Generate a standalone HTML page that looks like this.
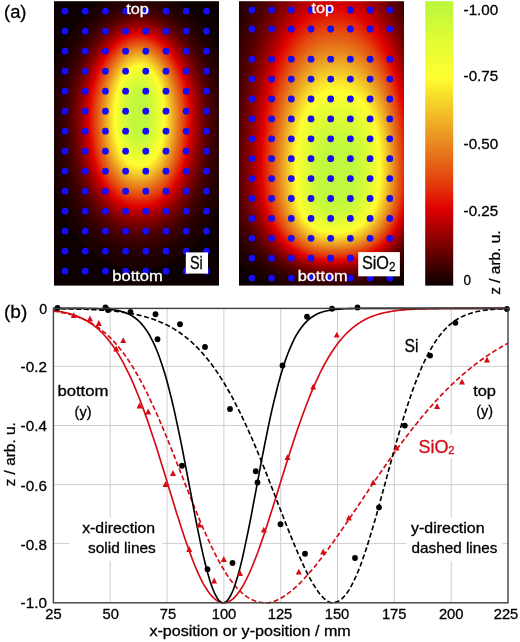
<!DOCTYPE html>
<html><head><meta charset="utf-8"><title>Figure</title><style>html,body{margin:0;padding:0;background:#fff}svg{display:block}text{stroke-width:.3px}</style></head><body>
<svg width="520" height="642" viewBox="0 0 520 642" font-family="'Liberation Sans', sans-serif">
<rect width="520" height="642" fill="#fff"/>
<clipPath id="c1"><rect x="54" y="1" width="165" height="285"/></clipPath>
<g clip-path="url(#c1)">
<rect x="54" y="1" width="165" height="285" fill="#0c0000"/>
<path d="M1057,-5l29,-15 618,0 6,3 75,43 75,55 72,64 70,75 59,75 59,90 49,90 28,60 23,56 0,1362 -7,22 -27,75 -31,75 -29,60 -33,60 -36,60 -42,60 -36,45 -41,45 -48,47 -45,37 -45,32 -45,28 -60,30 -45,18 -45,14 -60,14 -45,7 -45,4 -45,1 -60,-1 -45,-3 -45,-6 -75,-16 -75,-26 -45,-20 -30,-16 -30,-18 -45,-31 -30,-23 -45,-39 -61,-63 -60,-75 -50,-75 -34,-60 -23,-45 -47,-105 -33,-90 -19,-60 -21,-75 -26,-120 -1,-938 27,-97 37,-105 47,-105 32,-60 26,-45 61,-90 35,-45 39,-45 71,-71 45,-38 45,-34 45,-30z" fill="#1b0000" transform="scale(.1)"/>
<path d="M1251,-5l39,-9 44,-6 122,0 44,6 60,15 45,15 30,12 45,21 30,17 60,39 45,34 30,26 60,58 62,72 54,75 55,90 44,90 42,105 33,105 25,106 0,735 -21,119 -30,120 -33,105 -42,105 -28,60 -32,60 -27,45 -30,45 -34,45 -38,45 -30,31 -45,41 -30,24 -45,32 -45,26 -45,22 -45,17 -45,14 -45,10 -60,8 -90,3 -45,-2 -45,-4 -45,-8 -45,-11 -45,-15 -30,-12 -45,-22 -30,-17 -45,-30 -30,-22 -61,-55 -29,-30 -38,-45 -54,-75 -54,-90 -43,-90 -25,-60 -22,-60 -32,-105 -29,-120 -23,-135 -15,-135 -8,-135 -1,-150 4,-105 12,-105 19,-105 15,-60 17,-60 30,-90 46,-105 47,-90 28,-45 30,-45 34,-45 37,-45 70,-72 38,-33 37,-29 30,-22 45,-28 45,-24 45,-20 45,-17z" fill="#240000" transform="scale(.1)"/>
<path d="M1357,25l38,-2 45,2 45,6 30,6 30,8 45,15 45,19 30,15 45,27 30,20 63,49 63,60 65,75 53,75 54,90 43,90 41,105 32,105 14,60 11,60 15,105 7,105 -1,150 -7,135 -14,135 -22,135 -17,75 -16,60 -33,105 -42,105 -45,90 -26,45 -30,45 -28,39 -30,37 -30,33 -30,29 -45,39 -30,23 -30,19 -45,26 -30,14 -45,18 -45,13 -45,9 -45,6 -45,3 -90,-1 -45,-5 -45,-9 -45,-12 -30,-10 -30,-12 -45,-22 -30,-18 -45,-30 -64,-54 -30,-30 -39,-45 -55,-75 -29,-45 -25,-45 -23,-45 -27,-60 -34,-90 -36,-120 -25,-105 -22,-135 -14,-135 -7,-135 -1,-120 5,-105 12,-105 19,-105 28,-105 20,-60 23,-60 19,-45 29,-60 43,-75 29,-45 32,-45 62,-75 65,-64 45,-38 30,-22 30,-20 45,-27 30,-15 45,-19 45,-15 30,-8 45,-8z" fill="#2e0000" transform="scale(.1)"/>
<path d="M1292,70l43,-7 30,-3 45,-1 30,2 30,4 45,9 30,8 45,16 30,13 45,23 30,19 45,31 44,36 31,29 58,61 58,75 30,45 28,45 46,90 38,90 35,105 26,105 18,105 10,105 3,120 -4,150 -10,120 -18,135 -24,120 -34,120 -26,75 -18,45 -42,90 -25,45 -27,45 -55,75 -37,43 -30,31 -60,51 -30,21 -45,27 -30,15 -45,19 -30,10 -45,12 -45,7 -45,4 -90,0 -75,-8 -60,-15 -45,-16 -30,-13 -30,-15 -45,-27 -60,-45 -60,-58 -30,-34 -30,-38 -50,-76 -49,-90 -39,-90 -32,-90 -30,-105 -23,-105 -20,-135 -11,-120 -5,-120 -1,-120 6,-105 11,-90 11,-60 13,-60 30,-105 32,-90 41,-90 50,-90 29,-45 33,-45 34,-42 29,-33 61,-59 60,-48 30,-20 45,-27 30,-15 45,-19 45,-14z" fill="#380000" transform="scale(.1)"/>
<path d="M1290,100l30,-6 45,-5 45,-1 30,2 30,4 45,10 60,19 60,28 30,17 45,29 45,36 30,26 63,66 59,75 48,75 48,90 27,60 18,45 30,90 26,105 19,105 10,105 3,105 -4,150 -10,135 -17,120 -24,120 -16,60 -18,60 -32,90 -26,60 -22,45 -25,45 -27,45 -32,45 -23,30 -30,35 -30,31 -60,51 -30,21 -45,27 -45,22 -30,11 -30,10 -45,11 -75,9 -45,1 -45,-1 -75,-9 -45,-11 -30,-10 -60,-25 -60,-35 -60,-45 -30,-27 -30,-31 -53,-65 -50,-75 -42,-75 -40,-90 -37,-105 -29,-105 -24,-120 -17,-120 -9,-105 -5,-120 1,-120 7,-105 15,-105 23,-105 26,-90 34,-90 41,-90 52,-90 52,-75 55,-65 60,-59 60,-49 45,-29 30,-17 60,-28 45,-15z" fill="#420000" transform="scale(.1)"/>
<path d="M1357,115l38,-2 30,1 60,8 60,16 30,12 45,21 45,25 30,21 60,48 60,60 51,60 52,75 43,75 43,90 34,90 27,90 23,105 15,105 8,105 0,135 -6,120 -12,120 -19,120 -24,105 -31,105 -16,45 -24,60 -44,90 -26,45 -30,45 -49,63 -30,33 -30,29 -60,48 -45,28 -30,16 -60,24 -30,9 -45,10 -30,4 -45,3 -45,1 -45,-2 -45,-6 -30,-6 -30,-8 -45,-16 -60,-29 -60,-39 -30,-24 -30,-27 -47,-51 -28,-34 -29,-41 -29,-45 -25,-45 -36,-75 -35,-90 -32,-105 -28,-120 -17,-105 -13,-120 -6,-120 -1,-120 5,-105 13,-105 17,-90 28,-105 32,-90 40,-90 40,-75 48,-75 34,-45 25,-30 59,-61 60,-51 60,-41 30,-16 45,-21 30,-12 45,-12 30,-7z" fill="#4b0000" transform="scale(.1)"/>
<path d="M1304,145l61,-9 45,0 30,2 30,4 45,10 60,21 45,22 30,17 60,43 60,53 56,62 56,75 47,75 45,90 31,75 29,90 26,105 18,105 10,105 2,105 -4,135 -10,120 -17,120 -25,120 -29,105 -33,90 -42,90 -24,45 -28,45 -48,66 -30,35 -30,30 -30,27 -28,22 -32,22 -30,18 -60,28 -45,15 -30,7 -30,5 -45,5 -75,1 -45,-4 -30,-4 -45,-10 -30,-10 -60,-25 -60,-36 -30,-22 -30,-25 -55,-55 -47,-60 -49,-75 -39,-75 -38,-90 -31,-90 -27,-105 -21,-105 -14,-105 -9,-105 -4,-105 0,-120 7,-105 13,-90 22,-105 27,-90 33,-90 35,-75 23,-45 27,-45 52,-75 50,-60 60,-60 60,-48 60,-37 60,-28 45,-15z" fill="#550000" transform="scale(.1)"/>
<path d="M1332,160l33,-4 30,-1 30,1 45,6 60,15 60,24 60,34 61,45 59,55 56,65 53,75 44,75 37,75 24,60 16,45 27,90 20,90 15,105 7,90 1,120 -5,135 -12,120 -16,105 -20,90 -29,105 -33,90 -42,90 -43,75 -25,37 -30,39 -30,35 -30,30 -30,26 -30,23 -60,37 -45,21 -30,11 -60,15 -30,5 -45,3 -75,-1 -60,-7 -45,-11 -30,-9 -60,-27 -60,-37 -30,-23 -30,-26 -48,-51 -47,-60 -47,-75 -38,-75 -37,-90 -29,-90 -27,-105 -19,-105 -14,-120 -7,-105 -3,-120 3,-90 7,-90 14,-90 20,-90 27,-90 16,-45 24,-60 37,-75 44,-75 53,-75 56,-65 60,-55 60,-45 60,-34 60,-24 30,-9z" fill="#5f0000" transform="scale(.1)"/>
<path d="M1359,175l36,-2 30,1 60,9 60,18 60,28 60,38 60,49 30,29 30,32 53,68 49,75 40,75 33,75 32,90 24,90 18,90 14,105 5,90 -1,120 -6,120 -13,120 -18,105 -24,105 -34,105 -30,75 -45,90 -47,75 -48,60 -47,48 -30,26 -30,23 -30,19 -30,16 -60,25 -45,13 -30,5 -30,4 -45,3 -75,-3 -60,-9 -45,-13 -30,-11 -60,-30 -30,-19 -30,-23 -49,-44 -53,-60 -43,-60 -43,-75 -42,-90 -33,-90 -25,-90 -20,-90 -17,-105 -11,-105 -6,-120 -1,-120 5,-90 11,-90 17,-90 28,-105 32,-90 33,-75 40,-75 49,-75 46,-60 52,-55 60,-52 60,-40 60,-31 60,-20 30,-7z" fill="#690000" transform="scale(.1)"/>
<path d="M1288,205l32,-8 30,-4 60,-3 60,7 60,17 60,26 60,36 60,48 30,28 31,33 48,60 49,75 41,75 39,90 27,75 28,105 18,90 12,105 4,105 -3,135 -7,105 -15,120 -20,105 -28,105 -31,90 -40,90 -42,75 -30,45 -21,28 -45,52 -30,28 -30,25 -30,22 -30,18 -60,29 -60,19 -45,8 -30,3 -75,1 -60,-7 -60,-14 -60,-23 -30,-16 -30,-18 -45,-34 -49,-46 -51,-60 -41,-60 -42,-75 -34,-75 -32,-90 -26,-90 -19,-90 -17,-105 -10,-105 -5,-105 -1,-120 5,-90 9,-75 16,-90 23,-90 30,-90 31,-75 37,-75 46,-75 44,-60 56,-63 60,-54 60,-42 60,-31z" fill="#720000" transform="scale(.1)"/>
<path d="M1292,220l28,-7 30,-5 30,-2 45,1 30,3 30,6 30,9 30,11 60,29 30,19 30,21 57,50 48,52 52,68 47,75 45,90 30,75 29,90 19,75 16,90 11,105 3,105 -3,135 -8,105 -14,105 -21,105 -24,90 -31,90 -39,90 -42,75 -41,60 -52,60 -52,48 -30,22 -30,19 -30,16 -30,14 -60,19 -30,6 -45,6 -75,0 -60,-6 -60,-14 -45,-17 -30,-15 -30,-18 -48,-35 -27,-23 -30,-30 -45,-54 -40,-58 -42,-75 -33,-75 -28,-75 -26,-90 -20,-90 -16,-105 -11,-105 -5,-105 -1,-120 5,-90 9,-75 16,-90 19,-75 29,-90 30,-75 37,-75 45,-75 55,-75 52,-57 45,-41 60,-43 60,-32 30,-12z" fill="#7c0000" transform="scale(.1)"/>
<path d="M1292,235l28,-7 30,-5 60,-2 30,2 30,5 60,17 30,13 30,15 30,18 30,21 52,43 53,55 50,65 48,75 39,75 32,75 30,90 20,75 18,90 12,105 4,90 -2,135 -7,105 -14,120 -17,90 -27,105 -30,90 -40,90 -41,75 -45,65 -48,55 -27,26 -30,25 -30,21 -30,18 -30,16 -30,12 -30,10 -30,7 -60,9 -75,1 -60,-7 -60,-15 -45,-17 -30,-16 -30,-18 -45,-33 -45,-42 -48,-57 -42,-61 -41,-74 -34,-75 -27,-75 -25,-90 -20,-90 -14,-90 -11,-105 -5,-105 -1,-120 5,-90 9,-75 17,-90 18,-75 30,-90 30,-75 30,-60 43,-75 43,-60 28,-35 30,-32 45,-42 30,-24 30,-21 30,-18 30,-15 30,-13z" fill="#860000" transform="scale(.1)"/>
<path d="M1377,235l48,1 30,3 30,7 30,9 30,11 30,14 30,17 30,20 30,23 49,45 53,60 43,60 37,60 38,75 31,75 29,90 22,90 16,90 8,75 4,90 -1,120 -6,105 -12,105 -19,105 -26,105 -25,75 -30,75 -38,75 -38,62 -45,58 -45,47 -30,26 -30,22 -30,19 -30,16 -30,13 -30,10 -60,13 -60,5 -60,-2 -60,-8 -60,-18 -30,-13 -30,-16 -30,-19 -28,-20 -47,-42 -30,-33 -25,-30 -41,-60 -41,-75 -33,-75 -31,-90 -21,-75 -22,-105 -12,-90 -10,-105 -4,-105 0,-90 5,-90 12,-90 17,-90 20,-75 31,-90 32,-75 40,-75 48,-75 48,-60 47,-48 49,-42 56,-37 30,-15 30,-13 60,-18z" fill="#8f0000" transform="scale(.1)"/>
<path d="M1356,250l54,-2 30,3 30,5 30,8 30,10 30,13 30,16 54,37 51,44 45,48 45,58 39,60 40,75 33,75 31,90 23,90 17,90 9,75 6,90 -1,105 -5,105 -8,90 -16,105 -23,105 -22,75 -34,90 -36,75 -38,65 -45,61 -50,54 -25,22 -30,23 -30,19 -30,16 -30,13 -30,11 -60,13 -60,5 -60,-1 -60,-9 -60,-19 -30,-13 -30,-16 -50,-34 -50,-45 -40,-45 -43,-60 -35,-60 -36,-75 -29,-75 -27,-90 -23,-105 -14,-90 -9,-90 -6,-105 -1,-105 4,-90 9,-75 15,-90 23,-90 24,-75 30,-75 37,-75 45,-75 45,-60 55,-60 46,-41 30,-22 30,-19 45,-23 30,-12 30,-9z" fill="#990000" transform="scale(.1)"/>
<path d="M1340,265l55,-5 30,2 30,4 45,11 30,10 30,14 30,16 30,20 45,35 45,44 50,59 41,60 43,75 34,75 28,75 23,75 20,90 13,90 8,90 1,105 -3,105 -9,105 -15,105 -19,90 -26,90 -27,75 -33,75 -39,69 -45,64 -45,50 -47,42 -28,20 -30,18 -30,16 -30,12 -60,16 -60,7 -60,0 -60,-7 -60,-16 -30,-12 -30,-16 -45,-28 -48,-40 -43,-45 -44,-58 -38,-62 -30,-60 -31,-75 -29,-90 -19,-75 -19,-105 -11,-90 -7,-105 -2,-120 2,-75 8,-90 12,-75 20,-90 23,-75 28,-75 34,-75 43,-75 41,-60 50,-59 45,-44 45,-35 30,-20 30,-16 30,-14 30,-10z" fill="#a30000" transform="scale(.1)"/>
<path d="M1325,280l55,-7 30,0 30,3 30,5 30,8 45,18 45,24 30,20 30,23 45,42 51,59 42,60 43,75 35,75 29,75 22,75 20,90 14,90 8,90 1,105 -5,120 -9,105 -14,90 -19,90 -26,90 -28,75 -35,75 -34,60 -43,60 -25,30 -27,27 -45,39 -45,29 -30,16 -30,12 -30,10 -30,7 -60,7 -60,0 -60,-7 -30,-7 -30,-10 -45,-20 -45,-27 -45,-35 -45,-45 -45,-56 -38,-60 -38,-75 -30,-75 -25,-75 -22,-90 -16,-90 -11,-90 -7,-90 -3,-105 1,-90 6,-75 13,-90 15,-75 26,-90 27,-75 33,-75 42,-75 40,-60 47,-58 45,-45 45,-36 30,-20 30,-17 45,-20z" fill="#ad0000" transform="scale(.1)"/>
<path d="M1312,295l53,-9 30,-2 30,2 30,4 30,7 45,16 30,14 30,17 45,32 45,41 52,58 43,60 44,75 36,75 28,75 27,90 17,75 13,90 7,75 2,90 -3,120 -6,90 -14,105 -18,90 -24,90 -26,75 -32,75 -41,73 -43,62 -47,53 -45,39 -45,31 -30,15 -30,13 -30,10 -30,8 -60,7 -60,0 -60,-7 -30,-8 -30,-10 -45,-20 -45,-28 -45,-36 -45,-46 -39,-51 -38,-60 -31,-60 -31,-75 -25,-75 -19,-75 -18,-90 -12,-90 -8,-90 -3,-105 0,-90 7,-90 10,-75 15,-75 19,-75 25,-75 32,-75 38,-75 38,-60 40,-54 45,-49 53,-47 52,-35 45,-22z" fill="#b60000" transform="scale(.1)"/>
<path d="M1300,310l50,-11 30,-3 30,0 30,3 30,6 45,13 30,14 30,16 45,30 45,39 28,28 26,30 44,60 37,60 37,75 30,75 29,90 17,75 15,90 8,75 3,90 -2,120 -8,105 -11,90 -17,90 -24,90 -25,75 -32,75 -41,75 -39,56 -45,52 -45,41 -45,31 -30,17 -30,13 -45,14 -30,7 -30,3 -60,2 -45,-3 -30,-5 -30,-8 -45,-16 -45,-24 -45,-31 -45,-41 -45,-52 -39,-56 -33,-60 -28,-60 -28,-75 -25,-90 -17,-75 -14,-90 -9,-90 -5,-90 -1,-105 3,-75 8,-75 15,-90 17,-75 24,-75 28,-75 36,-75 35,-60 42,-60 38,-45 46,-45 27,-22 30,-21 45,-25 30,-14z" fill="#c00000" transform="scale(.1)"/>
<path d="M1350,310l45,-3 30,1 30,5 30,7 30,10 45,21 45,29 45,36 45,46 46,58 39,60 32,60 33,75 27,75 25,90 15,75 11,90 5,75 1,105 -5,105 -8,90 -14,90 -19,90 -22,75 -27,75 -35,75 -34,60 -40,55 -45,50 -45,38 -45,30 -30,15 -30,12 -30,9 -30,6 -60,6 -60,-2 -45,-7 -30,-7 -30,-11 -45,-21 -45,-30 -45,-38 -45,-50 -40,-55 -35,-61 -34,-74 -27,-75 -22,-75 -16,-75 -15,-90 -9,-90 -5,-90 -1,-90 2,-75 9,-90 12,-75 17,-75 22,-75 28,-75 34,-75 34,-60 41,-60 50,-59 45,-43 45,-34 45,-26 30,-13 30,-10z" fill="#ca0000" transform="scale(.1)"/>
<path d="M1328,325l52,-7 45,1 30,4 30,8 45,17 30,15 30,19 43,33 47,45 38,45 41,60 35,60 29,60 29,75 27,90 17,75 15,90 6,75 3,90 -3,120 -8,90 -12,90 -17,90 -20,75 -26,75 -32,75 -32,60 -45,66 -45,51 -45,40 -45,30 -30,16 -30,12 -45,13 -30,5 -30,3 -60,0 -45,-5 -30,-7 -30,-9 -45,-20 -45,-27 -45,-36 -40,-42 -35,-45 -39,-60 -30,-60 -31,-75 -24,-75 -19,-75 -14,-75 -12,-90 -8,-90 -2,-90 0,-90 7,-90 10,-75 15,-75 20,-75 26,-75 32,-75 32,-60 37,-60 45,-58 45,-47 45,-38 45,-29 45,-22 30,-10z" fill="#d40000" transform="scale(.1)"/>
<path d="M1310,340l25,-6 30,-5 45,-1 45,6 30,7 30,11 45,22 30,19 28,22 47,43 41,47 43,60 34,60 30,60 29,75 24,75 21,90 12,75 9,90 3,90 -3,105 -8,105 -12,90 -18,90 -21,75 -26,75 -33,75 -35,63 -40,57 -35,40 -45,41 -45,31 -30,16 -30,12 -45,13 -30,6 -30,2 -60,0 -45,-5 -30,-6 -30,-10 -45,-20 -45,-28 -45,-37 -37,-40 -35,-45 -37,-60 -30,-60 -25,-60 -25,-75 -19,-75 -15,-75 -10,-75 -8,-90 -4,-90 0,-90 4,-75 9,-75 13,-75 18,-75 24,-75 29,-75 30,-60 34,-60 43,-60 41,-47 45,-42 45,-33 45,-24z" fill="#de0000" transform="scale(.1)"/>
<path d="M1364,340l46,-1 30,3 30,6 45,15 45,23 45,31 45,39 44,49 33,45 38,60 31,60 31,75 25,75 19,75 15,75 11,90 4,75 -1,105 -4,90 -9,90 -14,90 -17,75 -22,75 -28,75 -28,60 -35,60 -33,47 -45,50 -45,39 -45,29 -30,14 -30,12 -45,11 -60,6 -60,-2 -45,-7 -45,-14 -45,-20 -45,-29 -45,-39 -45,-50 -33,-47 -35,-60 -28,-60 -28,-75 -22,-75 -17,-75 -14,-90 -9,-90 -4,-90 -1,-90 3,-75 10,-90 13,-75 19,-75 24,-75 30,-75 29,-60 36,-60 31,-45 41,-48 45,-43 45,-34 45,-25 45,-18 30,-8z" fill="#e00701" transform="scale(.1)"/>
<path d="M1341,355l24,-4 30,-1 45,3 45,11 45,18 45,26 45,35 45,44 39,48 40,60 33,60 28,60 27,75 22,75 16,75 12,75 7,90 2,90 -3,105 -8,90 -10,75 -18,90 -20,75 -26,75 -26,60 -32,60 -41,60 -42,48 -45,40 -45,30 -45,21 -45,14 -30,6 -30,3 -60,0 -45,-6 -45,-11 -45,-19 -45,-27 -45,-36 -45,-48 -30,-39 -32,-51 -30,-60 -25,-60 -25,-75 -19,-75 -14,-75 -12,-90 -7,-90 -2,-105 2,-75 5,-75 11,-75 15,-75 21,-75 26,-75 27,-60 31,-60 38,-60 35,-46 45,-48 45,-37 45,-29 45,-21z" fill="#e11103" transform="scale(.1)"/>
<path d="M1324,370l26,-5 30,-4 45,2 45,8 45,16 45,24 45,32 45,43 42,49 41,60 33,60 28,60 28,75 22,75 16,75 12,75 7,75 2,75 -2,105 -6,90 -11,90 -14,75 -22,90 -26,75 -25,60 -35,65 -37,55 -38,45 -45,41 -45,31 -45,22 -45,14 -30,6 -30,3 -60,0 -45,-6 -45,-12 -45,-19 -45,-28 -30,-23 -44,-44 -35,-45 -29,-45 -32,-60 -25,-60 -26,-75 -19,-75 -15,-75 -10,-75 -8,-90 -3,-75 0,-90 4,-75 9,-75 14,-75 18,-75 24,-75 24,-60 29,-60 35,-60 32,-45 42,-49 45,-43 45,-32 45,-24z" fill="#e11a05" transform="scale(.1)"/>
<path d="M1311,385l24,-7 30,-5 45,-1 45,6 45,14 45,22 46,31 44,39 45,51 32,45 36,60 29,60 30,75 23,75 18,75 12,75 8,75 4,75 -1,105 -6,90 -10,90 -17,90 -18,75 -25,75 -25,60 -31,60 -40,60 -37,45 -42,39 -45,32 -45,22 -45,15 -30,6 -30,3 -60,0 -45,-6 -45,-12 -45,-20 -45,-28 -30,-25 -40,-41 -35,-45 -30,-47 -30,-58 -25,-60 -20,-60 -20,-75 -15,-75 -10,-75 -7,-75 -4,-90 0,-90 4,-75 7,-60 12,-75 18,-75 23,-75 23,-60 28,-60 34,-60 31,-45 41,-50 41,-40 39,-30 40,-24 30,-14z" fill="#e22407" transform="scale(.1)"/>
<path d="M1360,385l20,-2 30,0 45,6 45,14 45,23 45,31 37,33 38,42 36,48 36,60 30,60 25,60 24,75 19,75 14,75 9,75 4,75 0,90 -4,90 -9,90 -11,75 -17,75 -21,75 -28,75 -29,60 -33,55 -37,50 -38,39 -44,36 -46,27 -45,17 -45,10 -45,4 -45,0 -45,-6 -45,-13 -45,-20 -45,-29 -40,-35 -35,-39 -37,-51 -34,-60 -27,-60 -22,-60 -21,-75 -17,-75 -11,-75 -8,-75 -5,-90 0,-90 2,-60 7,-75 12,-75 16,-75 18,-60 27,-75 27,-60 33,-60 40,-59 38,-46 37,-36 45,-34 45,-25 45,-17z" fill="#e32d09" transform="scale(.1)"/>
<path d="M1335,400l45,-6 45,1 45,9 45,17 45,26 45,35 38,38 36,45 31,46 33,59 34,75 21,60 21,75 16,75 11,75 6,75 2,90 -3,90 -7,90 -11,75 -14,75 -20,75 -26,75 -26,60 -34,60 -33,48 -37,42 -38,34 -45,30 -45,21 -45,13 -45,6 -45,0 -45,-4 -45,-10 -45,-18 -45,-27 -30,-24 -37,-36 -38,-48 -30,-47 -30,-58 -24,-57 -24,-75 -19,-75 -14,-75 -9,-75 -6,-75 -3,-90 1,-75 6,-75 9,-75 15,-75 16,-60 25,-75 25,-60 30,-60 32,-53 39,-52 36,-39 30,-27 45,-32 45,-23z" fill="#e3370b" transform="scale(.1)"/>
<path d="M1319,415l46,-10 45,-1 45,7 45,14 45,24 45,33 40,38 35,41 34,49 34,60 28,60 28,75 17,60 17,75 12,75 7,75 3,75 -2,105 -7,90 -9,75 -14,75 -19,75 -26,75 -26,60 -32,60 -30,44 -39,46 -36,33 -45,31 -45,21 -45,14 -45,6 -45,1 -45,-5 -45,-10 -45,-19 -44,-27 -31,-25 -35,-35 -35,-45 -29,-45 -23,-45 -26,-60 -21,-60 -17,-60 -16,-75 -11,-75 -7,-75 -4,-90 0,-90 4,-75 7,-60 13,-75 14,-60 22,-75 23,-60 28,-60 34,-60 31,-45 33,-40 35,-35 40,-31 45,-27z" fill="#e4400d" transform="scale(.1)"/>
<path d="M1370,415l40,-1 45,7 45,15 45,24 41,30 34,32 37,43 32,45 26,45 30,60 30,75 18,60 15,60 14,75 9,75 5,75 0,90 -5,90 -7,75 -12,75 -16,75 -22,75 -22,60 -27,57 -28,48 -32,45 -30,35 -45,39 -45,29 -45,19 -45,11 -45,4 -45,-1 -45,-6 -45,-14 -45,-22 -45,-32 -30,-27 -42,-50 -30,-45 -24,-45 -27,-60 -21,-60 -21,-75 -12,-60 -12,-75 -7,-75 -5,-90 0,-75 4,-75 8,-75 12,-75 19,-75 18,-60 23,-60 29,-60 34,-60 32,-45 37,-43 34,-32 41,-30 45,-24 45,-15z" fill="#e44a0f" transform="scale(.1)"/>
<path d="M1351,430l44,-4 45,4 45,13 30,13 45,28 30,24 41,42 35,45 29,45 32,60 26,60 25,75 16,60 15,75 10,75 6,75 1,90 -4,90 -7,75 -11,75 -15,75 -17,60 -21,60 -26,61 -30,54 -30,44 -30,36 -45,41 -45,29 -45,20 -45,12 -45,4 -45,-1 -45,-6 -45,-14 -45,-23 -43,-32 -32,-30 -30,-36 -27,-39 -26,-45 -28,-60 -21,-60 -18,-60 -14,-60 -12,-75 -9,-75 -4,-75 -2,-90 2,-60 6,-75 11,-75 16,-75 17,-60 21,-60 26,-60 32,-60 29,-45 31,-40 33,-35 34,-30 38,-26 45,-21z" fill="#e55312" transform="scale(.1)"/>
<path d="M1339,445l41,-6 45,1 45,10 30,12 45,25 30,23 41,40 37,45 30,45 33,60 26,60 21,60 17,60 16,75 12,75 6,75 1,90 -3,90 -6,75 -10,75 -15,75 -16,60 -20,60 -26,60 -24,46 -30,46 -35,43 -40,37 -45,31 -45,20 -45,12 -45,5 -45,-1 -45,-7 -45,-14 -30,-15 -45,-31 -30,-27 -30,-33 -30,-42 -30,-51 -23,-49 -23,-60 -18,-60 -14,-60 -13,-75 -7,-60 -5,-75 -2,-75 1,-75 5,-75 8,-60 10,-60 19,-75 19,-60 24,-60 29,-60 26,-45 32,-45 37,-42 36,-33 39,-27 45,-22z" fill="#e55c14" transform="scale(.1)"/>
<path d="M1329,460l36,-8 45,-1 45,7 30,10 45,23 40,29 35,33 35,42 31,45 33,60 27,60 22,60 21,75 12,60 10,60 7,75 2,75 -1,90 -6,90 -10,75 -14,75 -16,60 -19,60 -25,60 -24,45 -28,45 -37,45 -35,34 -36,26 -39,21 -45,15 -45,7 -45,1 -45,-5 -45,-12 -30,-13 -45,-28 -30,-25 -30,-32 -27,-34 -28,-45 -24,-45 -19,-45 -22,-64 -19,-71 -11,-60 -9,-60 -7,-75 -4,-75 0,-75 2,-60 7,-75 13,-75 13,-60 17,-60 22,-60 27,-60 24,-45 30,-46 34,-44 41,-40 30,-24 45,-26z" fill="#e66617" transform="scale(.1)"/>
<path d="M1321,475l44,-10 45,-2 45,8 30,10 45,24 30,21 30,27 37,42 32,45 26,45 29,60 23,60 23,75 13,60 10,60 9,75 3,75 -1,90 -4,75 -8,75 -13,75 -18,75 -19,60 -22,55 -25,50 -28,45 -36,45 -31,31 -30,23 -45,25 -45,16 -45,7 -45,1 -45,-5 -30,-7 -39,-16 -36,-21 -30,-23 -30,-29 -30,-37 -30,-46 -28,-54 -19,-45 -20,-60 -16,-60 -12,-60 -9,-60 -7,-75 -4,-75 0,-75 2,-60 6,-60 11,-75 13,-60 16,-60 21,-60 25,-60 24,-45 28,-45 34,-45 40,-41 30,-24 40,-25z" fill="#e66f19" transform="scale(.1)"/>
<path d="M1380,475l45,2 30,6 45,17 30,18 41,32 30,30 34,42 30,47 25,46 26,60 21,60 16,60 13,60 10,60 6,60 3,75 0,90 -5,75 -8,75 -10,60 -17,75 -19,60 -24,60 -22,45 -30,49 -30,38 -30,31 -30,24 -30,19 -45,19 -45,10 -45,3 -45,-3 -45,-10 -45,-19 -30,-19 -30,-24 -30,-31 -30,-38 -30,-49 -22,-45 -24,-60 -19,-60 -14,-60 -11,-60 -9,-75 -4,-60 -2,-75 0,-75 4,-60 7,-60 14,-75 14,-60 19,-60 23,-60 22,-45 25,-45 31,-45 36,-42 30,-28 30,-22 45,-25 30,-10z" fill="#e7791c" transform="scale(.1)"/>
<path d="M1357,490l38,-4 30,3 45,11 30,13 36,22 36,30 33,35 30,40 28,45 23,45 25,60 20,60 16,60 15,75 7,60 6,75 1,75 -3,90 -7,75 -9,60 -15,75 -17,60 -22,60 -20,45 -25,45 -32,45 -36,40 -30,25 -30,19 -45,20 -30,8 -45,5 -45,-1 -30,-4 -45,-13 -30,-15 -36,-24 -34,-30 -26,-30 -32,-45 -25,-45 -20,-45 -22,-60 -17,-60 -13,-60 -9,-60 -6,-60 -5,-75 -1,-75 2,-60 6,-75 9,-60 12,-60 16,-60 20,-60 18,-45 28,-56 30,-49 30,-40 30,-32 39,-33 36,-22 30,-13z" fill="#e8821e" transform="scale(.1)"/>
<path d="M1343,505l37,-6 30,0 45,8 30,11 45,26 30,24 30,30 33,42 29,45 24,45 25,60 21,60 15,60 13,60 8,60 7,75 1,60 -1,90 -6,75 -9,75 -12,60 -15,60 -19,60 -24,55 -27,50 -31,45 -32,36 -30,27 -30,20 -45,20 -30,9 -45,5 -45,-1 -30,-4 -45,-14 -30,-15 -30,-20 -30,-27 -30,-33 -24,-33 -26,-45 -22,-45 -18,-48 -17,-57 -15,-60 -10,-60 -7,-60 -6,-75 -1,-75 1,-60 5,-75 8,-60 11,-60 15,-60 19,-60 18,-45 21,-45 25,-45 23,-34 33,-41 31,-30 41,-31 30,-16z" fill="#e98b20" transform="scale(.1)"/>
<path d="M1334,520l31,-7 45,-2 45,9 30,11 30,17 30,22 30,28 36,42 29,45 25,46 26,59 20,60 17,60 12,60 8,60 7,75 2,60 -2,90 -6,75 -7,60 -14,75 -16,60 -20,60 -20,45 -24,45 -28,42 -30,36 -30,27 -30,21 -45,21 -30,9 -45,5 -45,-1 -30,-4 -30,-9 -30,-13 -30,-18 -30,-24 -30,-31 -30,-40 -22,-36 -23,-46 -18,-44 -19,-60 -14,-60 -11,-60 -7,-60 -5,-60 -2,-60 0,-75 3,-60 6,-60 10,-60 13,-60 17,-60 16,-45 19,-45 23,-45 28,-45 31,-41 30,-31 30,-25 30,-19z" fill="#ea9522" transform="scale(.1)"/>
<path d="M1327,535l38,-10 30,-2 45,5 30,9 30,15 40,28 32,30 26,30 31,45 25,45 20,45 23,60 17,60 13,60 10,60 6,60 4,75 -1,75 -4,75 -6,60 -12,75 -14,60 -19,60 -17,45 -24,49 -30,47 -30,37 -30,29 -30,22 -30,16 -30,11 -45,9 -45,1 -30,-3 -30,-7 -30,-11 -30,-16 -30,-22 -30,-29 -30,-37 -24,-36 -21,-41 -21,-49 -15,-45 -13,-45 -13,-60 -9,-60 -6,-60 -4,-75 -1,-75 3,-60 5,-60 9,-60 12,-60 17,-60 15,-45 18,-45 22,-45 27,-45 29,-40 30,-32 30,-26 30,-20z" fill="#ec9e23" transform="scale(.1)"/>
<path d="M1321,550l44,-13 30,-2 30,2 30,8 45,20 30,21 30,27 30,34 27,38 26,45 22,47 22,58 17,60 14,60 9,60 7,60 3,75 0,75 -4,75 -7,60 -9,60 -14,60 -18,60 -17,45 -21,45 -27,45 -30,39 -30,30 -30,23 -30,17 -30,11 -45,9 -45,1 -30,-3 -30,-7 -30,-11 -30,-17 -30,-23 -30,-30 -19,-24 -26,-39 -20,-36 -19,-45 -16,-45 -13,-45 -14,-60 -9,-60 -7,-60 -3,-60 -1,-75 1,-60 5,-60 8,-60 12,-60 15,-60 14,-45 18,-45 21,-45 26,-45 27,-38 30,-34 30,-27 30,-21z" fill="#eea824" transform="scale(.1)"/>
<path d="M1364,550l31,-3 30,3 15,3 30,10 30,16 30,21 30,28 30,35 25,37 25,45 20,45 17,45 17,60 11,45 10,60 8,60 4,60 1,60 -2,75 -6,75 -8,60 -12,60 -11,45 -20,60 -19,44 -25,46 -20,30 -30,36 -30,28 -30,20 -30,15 -30,9 -45,7 -45,-1 -30,-6 -30,-9 -30,-15 -30,-20 -30,-28 -19,-21 -26,-37 -22,-38 -21,-45 -16,-45 -16,-54 -11,-51 -10,-60 -7,-60 -3,-60 -2,-75 2,-60 5,-60 8,-60 11,-60 12,-45 19,-60 17,-45 22,-45 27,-45 22,-30 26,-30 27,-25 30,-21 30,-16 15,-6z" fill="#efb125" transform="scale(.1)"/>
<path d="M1352,565l28,-5 15,0 30,2 30,8 30,13 30,19 30,26 30,33 28,39 26,45 21,45 17,45 14,45 14,60 11,60 7,60 4,60 1,60 -2,75 -4,60 -8,60 -11,60 -13,52 -17,53 -19,45 -23,45 -20,30 -26,32 -30,29 -30,22 -30,15 -30,10 -45,6 -45,-1 -30,-5 -30,-10 -30,-15 -30,-22 -18,-16 -27,-30 -21,-30 -24,-41 -16,-34 -17,-45 -14,-45 -11,-45 -11,-60 -8,-60 -4,-60 -2,-75 1,-60 4,-60 7,-60 11,-60 10,-45 18,-60 17,-44 21,-46 24,-42 23,-33 25,-30 27,-26 30,-22 30,-16z" fill="#f1bb27" transform="scale(.1)"/>
<path d="M1344,580l36,-7 30,0 30,5 30,11 30,17 30,23 30,30 30,39 28,47 17,35 22,55 14,45 11,45 12,60 8,60 5,60 2,60 -2,75 -4,60 -6,60 -11,60 -10,45 -19,60 -18,45 -19,38 -23,37 -24,30 -30,30 -28,21 -30,16 -30,10 -45,7 -30,0 -30,-4 -30,-8 -30,-13 -30,-19 -29,-25 -27,-30 -19,-27 -19,-33 -21,-45 -17,-45 -14,-45 -10,-45 -11,-60 -10,-105 -1,-120 3,-60 7,-60 9,-60 10,-45 13,-45 16,-48 17,-42 23,-45 20,-32 30,-39 30,-30 30,-23 30,-17z" fill="#f3c428" transform="scale(.1)"/>
<path d="M1338,595l27,-7 30,-3 30,3 30,8 30,14 30,21 30,27 30,37 23,35 24,45 19,45 15,45 13,45 13,60 9,60 5,60 3,60 -1,75 -3,60 -6,60 -10,60 -14,60 -14,45 -18,45 -22,45 -21,33 -30,37 -21,20 -24,18 -30,17 -30,11 -45,7 -30,0 -30,-4 -30,-8 -30,-13 -20,-13 -25,-20 -24,-25 -23,-30 -19,-30 -22,-45 -17,-42 -11,-33 -11,-45 -12,-60 -7,-45 -5,-60 -3,-120 3,-60 5,-60 9,-60 9,-45 12,-45 15,-45 17,-45 22,-45 18,-30 29,-40 30,-31 23,-19 22,-15z" fill="#f5ce29" transform="scale(.1)"/>
<path d="M1334,610l31,-9 30,-3 30,3 30,9 30,14 30,22 30,29 21,25 24,36 21,39 19,45 16,45 13,45 13,60 9,60 5,60 3,60 -1,75 -3,60 -7,60 -10,60 -10,45 -14,45 -17,45 -22,45 -18,30 -27,35 -30,29 -30,21 -30,14 -30,9 -30,4 -30,0 -30,-4 -30,-9 -30,-14 -30,-21 -15,-13 -19,-21 -26,-34 -15,-26 -22,-45 -12,-30 -15,-45 -11,-45 -9,-45 -6,-45 -6,-60 -3,-120 6,-105 9,-60 8,-45 11,-45 14,-45 17,-45 19,-42 19,-33 26,-37 19,-23 26,-24 30,-22z" fill="#f7d72a" transform="scale(.1)"/>
<path d="M1332,625l33,-10 30,-3 30,3 30,8 30,16 30,22 24,24 21,25 23,35 22,41 21,49 15,45 11,45 12,60 7,45 5,60 3,60 0,60 -3,60 -6,60 -9,60 -10,45 -13,45 -18,48 -20,42 -25,40 -15,20 -30,30 -30,22 -30,15 -30,9 -30,4 -30,0 -30,-4 -30,-9 -16,-7 -25,-15 -19,-15 -30,-30 -22,-30 -23,-40 -15,-32 -15,-39 -12,-39 -11,-45 -8,-45 -10,-90 -3,-60 0,-60 6,-105 9,-60 8,-45 11,-45 14,-45 18,-45 14,-30 16,-30 23,-35 21,-25 24,-24 30,-22z" fill="#f9e12c" transform="scale(.1)"/>
<path d="M1330,640l20,-8 30,-6 30,0 30,6 30,13 30,19 30,28 20,23 21,30 19,34 19,41 16,45 14,45 13,60 7,45 6,60 4,60 0,60 -2,60 -5,60 -9,60 -9,45 -13,45 -16,45 -21,45 -19,33 -20,27 -25,26 -30,23 -30,16 -30,9 -30,4 -30,0 -30,-4 -30,-9 -15,-7 -21,-13 -24,-19 -25,-26 -20,-27 -15,-25 -19,-38 -12,-30 -15,-45 -11,-45 -9,-45 -10,-90 -3,-105 5,-105 7,-60 8,-45 10,-45 14,-45 16,-45 14,-30 15,-30 20,-31 23,-29 22,-23 30,-23z" fill="#fbea2d" transform="scale(.1)"/>
<path d="M1379,640l31,0 30,6 21,9 24,14 21,16 24,24 28,36 18,30 15,30 19,45 14,45 12,45 8,45 9,60 6,105 -2,105 -6,60 -6,45 -10,50 -15,54 -15,40 -15,33 -19,33 -26,35 -24,25 -21,16 -25,14 -20,8 -30,7 -30,2 -30,-2 -30,-7 -20,-8 -25,-14 -21,-16 -24,-25 -26,-35 -17,-30 -17,-36 -15,-39 -19,-75 -14,-90 -6,-105 3,-105 5,-60 7,-45 8,-45 12,-45 14,-45 19,-45 16,-32 17,-28 23,-30 20,-22 28,-23 17,-11 30,-13z" fill="#fdf42e" transform="scale(.1)"/>
<path d="M1375,655l20,-2 30,4 30,10 30,17 19,16 26,27 24,33 18,30 18,38 14,37 14,45 11,45 13,90 7,105 -3,105 -5,60 -7,45 -9,45 -12,45 -17,45 -14,30 -17,30 -20,29 -15,17 -30,26 -15,10 -30,14 -30,7 -30,2 -30,-2 -30,-7 -30,-14 -15,-10 -30,-26 -14,-16 -31,-46 -15,-30 -15,-37 -12,-37 -11,-45 -9,-45 -6,-45 -5,-90 1,-105 5,-60 5,-45 8,-45 11,-45 14,-45 14,-37 18,-38 18,-30 21,-30 18,-20 29,-25 16,-10 30,-14z" fill="#ffff30" transform="scale(.1)"/>
<path d="M1340,685l25,-9 30,-3 30,3 15,5 30,14 15,11 27,24 18,21 25,39 16,30 19,45 10,30 12,45 9,45 11,90 3,60 0,60 -2,60 -4,45 -7,45 -8,45 -9,33 -15,45 -15,35 -15,28 -16,24 -29,34 -15,13 -30,19 -30,11 -30,4 -45,-1 -21,-5 -24,-9 -30,-19 -15,-13 -30,-35 -15,-23 -15,-28 -15,-35 -12,-33 -18,-75 -12,-90 -3,-105 5,-105 12,-90 18,-75 10,-30 19,-45 16,-30 19,-30 21,-27 15,-15 30,-23z" fill="#f7fe31" transform="scale(.1)"/>
<path d="M1347,715l18,-6 30,-4 30,4 15,5 30,16 15,12 31,33 29,45 15,31 17,44 12,45 10,45 11,90 3,105 -2,60 -3,45 -12,75 -7,30 -14,47 -15,36 -15,29 -15,23 -26,30 -19,16 -30,17 -15,5 -30,6 -30,0 -15,-2 -15,-4 -21,-8 -24,-14 -15,-12 -30,-34 -15,-23 -15,-29 -15,-36 -10,-32 -17,-75 -8,-75 -3,-105 5,-90 12,-90 19,-75 17,-44 15,-31 29,-45 31,-33 15,-12z" fill="#eefd32" transform="scale(.1)"/>
<path d="M1363,745l17,-4 15,-1 30,4 15,6 18,10 27,22 15,17 15,20 15,26 15,32 21,63 14,75 7,75 3,90 -5,90 -11,75 -11,45 -10,30 -13,30 -17,30 -22,30 -15,15 -16,12 -15,9 -15,6 -30,6 -30,0 -15,-2 -30,-10 -15,-9 -16,-12 -15,-15 -22,-30 -24,-45 -20,-60 -13,-60 -8,-75 -1,-90 4,-90 10,-77 18,-73 12,-33 15,-32 15,-26 15,-20 30,-30 15,-11z" fill="#e4fd33" transform="scale(.1)"/>
<path d="M1352,790l28,-9 15,-2 15,2 15,3 15,7 15,9 15,13 15,16 15,20 15,27 20,49 15,60 10,75 4,90 -2,90 -9,75 -15,60 -11,30 -12,26 -15,25 -15,18 -15,14 -15,11 -15,7 -30,8 -30,0 -30,-8 -15,-7 -15,-11 -15,-14 -15,-18 -21,-36 -17,-45 -15,-60 -8,-60 -3,-75 2,-90 7,-75 11,-60 20,-60 24,-46 15,-20 15,-16 15,-13z" fill="#dbfc35" transform="scale(.1)"/>
<path d="M1386,820l24,1 15,4 15,8 15,11 15,15 15,20 15,28 18,48 12,52 6,53 3,75 0,75 -5,60 -11,60 -14,45 -9,19 -15,26 -15,18 -13,12 -17,11 -15,6 -30,4 -30,-4 -15,-6 -15,-10 -15,-13 -15,-18 -15,-26 -15,-36 -15,-58 -7,-60 -3,-60 2,-90 5,-60 11,-60 14,-45 8,-18 15,-28 24,-29 21,-17 15,-8z" fill="#d1fa38" transform="scale(.1)"/>
<path d="M1356,880l9,-6 15,-5 15,-2 15,2 15,5 9,6 21,18 15,21 18,36 12,40 8,50 4,60 0,90 -5,60 -7,45 -14,45 -16,30 -15,19 -15,13 -15,8 -15,4 -30,0 -15,-4 -15,-8 -15,-13 -15,-19 -15,-28 -11,-32 -7,-30 -6,-45 -3,-60 1,-90 3,-45 7,-45 13,-45 15,-30 18,-27z" fill="#c8f93a" transform="scale(.1)"/>
<path d="M1371,940l9,-5 15,-2 15,2 15,8 15,15 15,24 12,33 7,30 3,30 1,30 -2,105 -5,45 -7,30 -9,23 -15,24 -15,13 -15,7 -15,2 -15,-2 -15,-7 -15,-13 -11,-17 -7,-15 -10,-30 -5,-30 -3,-30 -2,-120 2,-30 5,-30 16,-48 15,-24 15,-15z" fill="#bff83d" transform="scale(.1)"/>
</g>
<clipPath id="c2"><rect x="239" y="1" width="165" height="285"/></clipPath>
<g clip-path="url(#c2)">
<rect x="239" y="1" width="165" height="285" fill="#0c0000"/>
<path d="M2360,-20l1710,0 0,2751 -60,46 -75,46 -60,31 -45,19 -46,17 -926,0 -63,-21 -75,-30 -60,-29 -75,-42 -60,-40 -60,-46 -54,-47 -51,-52z" fill="#1b0000" transform="scale(.1)"/>
<path d="M2386,-5l4,-15 1680,0 0,2669 -45,40 -45,35 -45,30 -45,26 -45,23 -45,19 -45,17 -45,14 -75,19 -60,10 -45,6 -24,2 -340,0 -71,-8 -90,-15 -60,-15 -45,-13 -90,-33 -90,-42 -75,-44 -45,-31 -45,-34 -41,-35 -32,-30 -32,-33 -37,-42 -53,-71 0,-2362z" fill="#240000" transform="scale(.1)"/>
<path d="M2472,-20l1598,0 0,2612 -45,45 -60,49 -60,41 -60,33 -75,34 -45,16 -60,17 -45,10 -60,10 -45,6 -60,5 -75,2 -90,0 -120,-6 -60,-7 -60,-10 -60,-13 -45,-13 -90,-31 -45,-20 -45,-22 -45,-25 -45,-29 -75,-55 -44,-39 -31,-30 -30,-32 -37,-43 -53,-75 -45,-78 0,-1960 22,-92 28,-105 31,-105z" fill="#2e0000" transform="scale(.1)"/>
<path d="M2536,-20l1534,0 0,2567 -56,58 -64,55 -60,41 -45,26 -45,22 -75,30 -45,14 -60,15 -60,11 -45,6 -105,7 -135,0 -120,-8 -105,-16 -60,-15 -45,-13 -45,-16 -45,-19 -45,-21 -45,-24 -78,-50 -39,-30 -36,-30 -42,-39 -34,-36 -60,-75 -49,-75 -25,-45 -22,-45 -20,-49 0,-1595 37,-186 41,-165 49,-165z" fill="#380000" transform="scale(.1)"/>
<path d="M2584,-5l7,-15 1435,0 44,118 0,2410 -32,37 -29,30 -32,30 -42,35 -45,32 -30,19 -45,24 -45,21 -75,28 -45,13 -60,14 -90,12 -105,6 -150,-1 -105,-9 -45,-7 -60,-12 -90,-27 -45,-17 -45,-19 -75,-40 -75,-50 -45,-36 -36,-31 -58,-60 -38,-45 -22,-30 -48,-75 -24,-45 -22,-45 -29,-75 -23,-74 0,-1215 19,-136 18,-105 26,-135 25,-105 27,-105 37,-120 37,-105z" fill="#420000" transform="scale(.1)"/>
<path d="M2639,-20l1347,0 31,75 53,145 0,2272 -34,43 -41,44 -33,31 -42,35 -45,32 -45,27 -45,23 -45,19 -45,17 -45,13 -90,20 -45,6 -60,5 -120,3 -105,-2 -105,-11 -90,-19 -45,-12 -60,-21 -45,-19 -45,-22 -75,-45 -67,-49 -35,-30 -33,-31 -30,-32 -36,-42 -54,-75 -43,-75 -22,-45 -19,-45 -26,-75 -16,-60 -13,-60 -11,-70 0,-713 11,-147 17,-150 23,-165 30,-165 30,-135 35,-135 43,-135 45,-120z" fill="#4b0000" transform="scale(.1)"/>
<path d="M2684,-20l1264,0 41,90 41,105 40,116 0,2148 -34,46 -41,47 -45,43 -45,38 -45,31 -45,27 -60,30 -45,18 -45,14 -45,13 -90,16 -105,9 -135,1 -105,-6 -90,-13 -45,-10 -45,-12 -75,-27 -75,-35 -45,-26 -35,-23 -70,-53 -41,-37 -29,-30 -27,-30 -36,-45 -50,-75 -26,-45 -22,-45 -31,-75 -27,-90 -20,-90 -14,-105 -8,-120 0,-195 6,-210 12,-195 16,-165 21,-165 25,-150 31,-150 30,-120 36,-120 41,-120 43,-105z" fill="#550000" transform="scale(.1)"/>
<path d="M2718,-5l8,-15 1186,0 31,60 27,60 49,120 26,75 25,78 0,2035 -33,47 -36,45 -36,38 -45,41 -45,35 -45,29 -60,32 -60,26 -45,15 -45,13 -90,17 -45,5 -60,4 -120,2 -105,-5 -90,-13 -45,-9 -45,-12 -75,-27 -75,-35 -75,-45 -67,-51 -34,-30 -34,-34 -37,-41 -23,-30 -52,-75 -41,-75 -20,-45 -18,-45 -28,-90 -20,-90 -13,-90 -9,-120 -1,-195 5,-195 12,-195 17,-180 21,-165 23,-135 28,-135 34,-135 40,-135 43,-120 45,-105z" fill="#5f0000" transform="scale(.1)"/>
<path d="M2758,-5l9,-15 1110,0 43,79 41,86 37,90 33,90 39,125 0,1928 -41,62 -36,45 -43,45 -45,41 -60,44 -45,28 -60,30 -60,23 -45,14 -45,11 -90,14 -105,7 -120,0 -90,-6 -90,-15 -75,-19 -75,-28 -75,-37 -45,-27 -30,-21 -39,-29 -34,-30 -60,-60 -49,-60 -50,-75 -25,-45 -22,-45 -30,-75 -27,-90 -19,-90 -13,-105 -6,-105 0,-210 6,-195 13,-195 18,-180 24,-165 25,-135 30,-135 37,-135 34,-105 46,-120 47,-105z" fill="#690000" transform="scale(.1)"/>
<path d="M2806,-20l1037,0 52,90 52,105 49,120 42,120 32,107 0,1827 -38,61 -46,60 -41,45 -50,45 -50,38 -60,37 -60,29 -60,22 -45,13 -45,11 -45,8 -45,5 -105,6 -120,-1 -90,-8 -90,-17 -75,-22 -75,-30 -75,-41 -72,-50 -36,-30 -32,-30 -55,-60 -46,-60 -46,-75 -37,-75 -34,-90 -24,-90 -17,-90 -11,-105 -4,-120 2,-225 8,-195 16,-195 21,-180 28,-165 28,-135 30,-120 36,-120 43,-120 45,-105 52,-103z" fill="#720000" transform="scale(.1)"/>
<path d="M2834,-5l11,-15 963,0 37,55 30,51 30,56 30,62 27,61 29,75 46,135 33,116 0,1730 -34,59 -43,60 -52,60 -49,45 -62,47 -60,36 -60,28 -60,21 -45,13 -45,10 -90,12 -105,5 -120,-3 -90,-9 -75,-15 -75,-23 -75,-32 -45,-24 -30,-18 -66,-48 -35,-30 -31,-30 -54,-60 -44,-60 -45,-75 -35,-75 -33,-90 -23,-90 -18,-105 -9,-105 -3,-120 3,-210 9,-195 17,-195 23,-180 23,-135 29,-135 31,-120 42,-135 45,-120 47,-105 52,-96z" fill="#7c0000" transform="scale(.1)"/>
<path d="M2884,-20l889,0 42,58 39,62 36,64 35,71 33,75 35,90 30,90 27,90 20,78 0,1635 -40,72 -41,60 -52,60 -47,45 -60,47 -60,36 -30,16 -45,19 -75,25 -45,11 -45,9 -90,9 -120,3 -105,-5 -75,-10 -75,-17 -75,-25 -75,-35 -39,-23 -36,-24 -60,-47 -36,-34 -29,-30 -49,-60 -50,-75 -39,-75 -31,-75 -24,-75 -15,-60 -9,-45 -14,-105 -6,-120 0,-165 6,-210 12,-180 19,-180 23,-150 25,-135 32,-135 40,-135 42,-120 44,-105 53,-105 51,-84 30,-43z" fill="#860000" transform="scale(.1)"/>
<path d="M2911,-5l13,-15 813,0 48,60 45,66 45,77 41,82 40,90 34,90 29,90 34,120 17,67 0,1542 -36,71 -28,45 -22,30 -49,60 -30,30 -30,27 -60,45 -60,36 -75,34 -75,23 -75,16 -90,10 -120,2 -105,-4 -90,-14 -75,-19 -75,-28 -60,-30 -38,-23 -37,-25 -60,-50 -59,-60 -47,-60 -40,-60 -40,-75 -31,-75 -29,-90 -14,-60 -8,-45 -8,-60 -6,-60 -4,-120 1,-180 7,-180 13,-180 18,-165 26,-165 31,-150 30,-120 37,-120 44,-120 47,-105 47,-90 30,-49 27,-41z" fill="#8f0000" transform="scale(.1)"/>
<path d="M2951,-5l15,-15 732,0 57,63 53,72 52,85 45,87 43,98 40,105 33,105 36,135 13,56 0,1449 -33,70 -45,75 -27,36 -30,36 -30,32 -30,28 -30,25 -32,23 -43,27 -30,16 -45,21 -30,11 -75,23 -45,9 -45,7 -90,8 -120,0 -90,-6 -75,-12 -75,-20 -75,-29 -60,-31 -38,-24 -37,-26 -57,-49 -56,-60 -47,-60 -46,-75 -37,-75 -18,-45 -15,-45 -21,-75 -10,-45 -9,-60 -7,-60 -5,-60 -2,-150 3,-195 8,-165 14,-165 22,-165 25,-150 30,-135 37,-135 40,-120 42,-105 49,-102 54,-93 52,-75 29,-35z" fill="#990000" transform="scale(.1)"/>
<path d="M2994,-5l18,-15 644,0 39,36 30,32 30,35 30,40 30,44 30,49 50,94 28,60 25,60 43,120 40,135 33,135 6,29 0,1357 -16,39 -22,45 -44,75 -32,45 -25,30 -28,30 -31,30 -37,30 -35,25 -45,28 -30,15 -75,31 -45,14 -45,11 -75,12 -90,6 -120,-1 -90,-7 -75,-14 -75,-22 -75,-33 -60,-34 -64,-46 -56,-51 -49,-54 -23,-30 -31,-45 -43,-75 -33,-75 -27,-75 -22,-90 -17,-105 -6,-60 -3,-60 -1,-180 5,-195 12,-180 16,-150 22,-150 29,-150 33,-135 36,-120 44,-120 46,-105 48,-90 54,-84 30,-41 30,-36 30,-32z" fill="#a30000" transform="scale(.1)"/>
<path d="M3041,-5l21,-15 546,0 57,45 30,28 30,32 30,36 40,54 55,90 25,46 30,62 49,117 46,135 37,135 33,150 0,1265 -35,85 -23,45 -27,45 -31,45 -24,30 -40,43 -30,28 -30,25 -45,32 -30,18 -45,23 -75,29 -45,13 -45,10 -90,12 -90,4 -105,-1 -45,-4 -45,-6 -75,-16 -75,-24 -60,-28 -60,-35 -63,-48 -57,-54 -32,-36 -24,-30 -41,-60 -41,-75 -32,-75 -29,-90 -18,-75 -15,-105 -8,-120 0,-195 7,-195 12,-165 18,-165 27,-165 29,-135 36,-135 39,-120 42,-107 50,-103 25,-46 30,-49 30,-44 30,-39 30,-35 30,-31 30,-27z" fill="#ad0000" transform="scale(.1)"/>
<path d="M3095,-5l28,-15 428,0 39,23 30,20 45,37 30,29 30,32 30,36 30,41 30,45 55,97 50,107 45,117 38,121 39,150 28,142 0,1165 -4,13 -16,45 -19,45 -23,45 -25,45 -31,45 -23,30 -39,44 -33,31 -36,30 -36,25 -45,28 -30,15 -45,19 -45,16 -45,12 -60,12 -90,9 -105,2 -90,-4 -75,-10 -60,-14 -75,-26 -45,-20 -30,-16 -60,-39 -60,-50 -48,-49 -49,-60 -48,-75 -38,-75 -18,-45 -16,-45 -21,-75 -18,-90 -12,-105 -4,-135 2,-210 10,-195 16,-165 23,-165 28,-150 33,-135 36,-120 44,-120 50,-112 28,-53 27,-45 50,-74 30,-38 30,-34 30,-30 30,-26 30,-24z" fill="#b60000" transform="scale(.1)"/>
<path d="M3165,-5l46,-15 259,1 45,16 30,13 30,17 30,19 30,22 30,26 30,29 30,33 30,36 30,41 30,46 27,46 48,94 45,106 41,115 39,135 31,135 24,133 0,1065 -25,77 -19,45 -21,45 -25,45 -29,45 -31,40 -30,34 -30,30 -30,26 -30,23 -45,30 -30,16 -45,22 -45,17 -45,13 -45,11 -60,9 -90,7 -105,0 -75,-5 -75,-12 -60,-16 -45,-15 -30,-13 -30,-15 -39,-22 -64,-45 -32,-27 -30,-29 -31,-34 -25,-30 -42,-60 -42,-75 -32,-75 -26,-75 -21,-90 -14,-90 -6,-60 -4,-75 0,-180 6,-195 14,-180 20,-165 25,-150 33,-150 34,-120 41,-120 24,-60 27,-60 49,-93 30,-49 30,-44 30,-39 30,-34 30,-31 30,-27 30,-24 45,-30 30,-16z" fill="#c00000" transform="scale(.1)"/>
<path d="M3218,10l42,-9 30,-3 45,-2 45,1 45,6 30,6 60,20 30,13 30,17 30,19 30,23 30,25 30,30 30,33 30,37 30,42 27,42 48,85 45,95 45,115 40,125 31,120 28,135 21,129 0,956 -20,70 -21,60 -20,45 -23,45 -27,45 -31,45 -38,45 -29,30 -31,28 -30,23 -35,24 -40,24 -45,21 -45,18 -45,14 -45,10 -45,8 -45,5 -90,4 -105,-2 -75,-7 -60,-12 -60,-18 -45,-17 -30,-14 -60,-35 -60,-44 -33,-30 -30,-30 -50,-60 -40,-60 -40,-75 -20,-45 -17,-45 -23,-75 -19,-90 -12,-90 -4,-60 -3,-75 1,-195 9,-195 14,-165 22,-165 28,-150 32,-135 40,-135 46,-120 48,-105 52,-90 29,-44 35,-46 40,-45 30,-30 30,-26 30,-23 30,-19 45,-24 45,-18z" fill="#ca0000" transform="scale(.1)"/>
<path d="M3221,40l39,-8 30,-3 45,-2 45,1 45,5 30,6 30,9 30,11 45,22 30,18 30,21 30,25 30,27 30,32 50,61 25,36 30,47 53,97 47,105 38,105 37,120 33,135 26,135 21,146 0,837 -12,52 -13,45 -15,45 -18,45 -21,45 -24,45 -29,45 -22,30 -26,31 -30,32 -30,27 -37,30 -38,26 -45,25 -30,14 -45,18 -45,14 -45,11 -45,8 -45,5 -75,4 -105,-1 -75,-6 -75,-14 -30,-9 -45,-15 -60,-27 -63,-38 -59,-45 -32,-30 -28,-30 -48,-60 -39,-60 -38,-75 -30,-75 -27,-90 -18,-90 -11,-90 -4,-60 -2,-75 3,-210 9,-180 15,-165 21,-150 28,-150 33,-135 37,-120 46,-120 49,-105 53,-90 30,-44 30,-38 30,-34 30,-31 30,-26 45,-34 45,-27 30,-14 30,-11z" fill="#d40000" transform="scale(.1)"/>
<path d="M3220,70l40,-8 30,-4 45,-2 45,1 45,6 30,6 30,9 30,11 45,22 30,18 30,22 30,24 30,28 30,32 30,36 30,40 30,45 26,44 49,95 49,115 41,120 37,135 29,135 22,135 17,143 0,700 -14,72 -16,60 -20,60 -24,60 -40,75 -29,45 -23,30 -29,34 -30,30 -30,27 -38,29 -37,24 -30,17 -30,15 -45,18 -45,14 -45,11 -45,8 -45,6 -90,4 -105,-2 -75,-8 -60,-13 -45,-13 -30,-11 -55,-25 -51,-30 -60,-45 -33,-30 -29,-30 -49,-60 -39,-60 -39,-75 -30,-75 -23,-75 -19,-90 -12,-90 -7,-120 0,-195 8,-180 14,-165 21,-165 24,-135 32,-135 40,-135 45,-120 49,-105 52,-90 26,-39 30,-39 30,-36 30,-30 30,-28 45,-34 45,-27 30,-15 30,-11z" fill="#de0000" transform="scale(.1)"/>
<path d="M3220,100l40,-8 30,-4 45,-2 45,1 45,5 30,7 30,9 30,11 45,22 30,18 30,22 30,25 30,28 30,32 30,36 30,41 30,46 24,41 51,100 46,110 40,120 33,120 29,135 22,135 18,150 7,92 0,517 -11,81 -20,90 -23,75 -31,75 -40,75 -25,38 -28,37 -26,30 -30,30 -34,30 -32,24 -33,21 -42,23 -30,14 -45,18 -75,20 -45,8 -45,6 -75,4 -105,-1 -75,-7 -75,-15 -60,-19 -60,-27 -60,-35 -60,-46 -49,-48 -49,-60 -40,-60 -39,-75 -31,-75 -23,-75 -19,-90 -12,-90 -5,-60 -2,-75 1,-195 7,-165 14,-165 20,-150 27,-150 33,-135 36,-120 21,-60 24,-60 26,-57 24,-48 51,-86 30,-44 28,-35 32,-37 30,-29 30,-26 30,-23 30,-19 45,-23 30,-12z" fill="#e00701" transform="scale(.1)"/>
<path d="M3229,130l31,-6 45,-5 45,-1 45,2 45,8 30,7 30,10 30,13 30,16 30,18 30,22 30,25 30,28 30,33 30,37 30,41 30,46 29,51 46,93 45,111 37,111 32,120 28,135 21,135 16,135 10,150 5,150 0,150 -6,120 -12,90 -18,90 -28,90 -31,75 -41,75 -28,42 -26,33 -27,30 -31,30 -56,45 -40,26 -30,16 -30,14 -45,18 -75,21 -45,8 -45,6 -75,4 -105,-1 -75,-7 -60,-11 -45,-13 -30,-11 -56,-25 -51,-30 -59,-45 -33,-30 -26,-28 -50,-62 -38,-60 -38,-75 -28,-75 -22,-75 -18,-90 -11,-90 -6,-120 1,-195 7,-165 15,-165 20,-150 25,-135 33,-135 36,-120 40,-105 49,-104 25,-46 28,-45 22,-32 33,-43 27,-31 30,-30 33,-29 42,-31 30,-18 30,-15 30,-13z" fill="#e11103" transform="scale(.1)"/>
<path d="M3235,160l40,-7 30,-3 45,-1 45,3 45,7 30,7 30,11 30,12 30,16 30,19 30,22 30,25 30,29 30,33 30,37 30,42 30,47 26,46 44,90 43,105 39,120 32,120 27,135 21,135 14,135 9,135 5,150 -1,150 -6,105 -12,90 -18,90 -28,90 -32,75 -23,45 -18,30 -47,64 -30,34 -30,29 -30,26 -30,22 -31,20 -44,24 -30,13 -45,17 -75,20 -45,7 -45,5 -90,3 -90,-2 -75,-9 -60,-13 -60,-20 -60,-29 -60,-38 -47,-38 -45,-45 -49,-60 -38,-60 -38,-75 -29,-75 -22,-75 -19,-90 -11,-90 -6,-120 2,-195 7,-165 15,-165 21,-150 26,-135 29,-120 37,-120 41,-105 21,-47 29,-58 46,-78 30,-43 30,-38 30,-33 30,-29 30,-26 30,-22 30,-18 45,-22 30,-11z" fill="#e11a05" transform="scale(.1)"/>
<path d="M3237,190l38,-7 30,-3 45,-1 45,3 45,7 30,8 30,10 30,13 30,16 30,19 30,22 30,25 30,29 30,34 50,65 25,38 30,51 45,89 44,107 35,105 33,120 29,135 21,135 15,135 9,135 4,150 0,150 -7,105 -11,90 -19,90 -13,45 -15,45 -32,75 -24,45 -19,30 -21,30 -29,37 -30,32 -30,29 -30,24 -30,22 -60,34 -30,14 -45,17 -75,20 -45,8 -45,5 -90,3 -90,-2 -75,-9 -60,-14 -60,-21 -60,-29 -54,-35 -51,-42 -46,-48 -47,-60 -37,-60 -36,-75 -28,-75 -20,-75 -15,-75 -11,-90 -6,-120 1,-195 8,-165 14,-150 18,-135 25,-135 28,-120 37,-120 40,-106 45,-97 48,-82 27,-40 30,-39 30,-35 30,-30 30,-25 30,-23 30,-19 45,-22 30,-12z" fill="#e22407" transform="scale(.1)"/>
<path d="M3236,220l39,-7 30,-3 75,0 45,6 30,6 30,9 30,12 30,14 30,18 30,20 30,24 30,28 30,31 30,36 30,41 50,80 47,90 44,105 39,117 33,123 25,120 21,135 14,135 9,135 4,150 -1,135 -6,105 -12,90 -19,90 -13,45 -15,45 -33,75 -22,41 -21,34 -46,60 -27,30 -26,25 -30,25 -30,22 -60,36 -30,14 -45,17 -75,21 -45,8 -45,5 -75,3 -90,-1 -75,-8 -60,-13 -60,-19 -60,-28 -60,-38 -48,-39 -44,-45 -47,-60 -38,-60 -37,-75 -27,-75 -21,-75 -15,-75 -11,-90 -6,-120 1,-180 7,-165 14,-150 18,-135 24,-135 29,-120 37,-120 40,-105 20,-45 29,-58 46,-77 29,-41 30,-38 30,-33 30,-28 30,-25 30,-21 30,-17 30,-15 30,-12z" fill="#e32d09" transform="scale(.1)"/>
<path d="M3232,250l28,-6 45,-5 75,0 45,5 30,7 30,9 30,12 30,15 30,17 30,21 30,24 30,28 30,32 45,56 47,70 49,90 46,105 37,105 30,105 27,120 24,135 16,135 10,135 5,135 1,165 -6,105 -10,90 -18,90 -22,75 -30,75 -22,45 -17,30 -41,60 -25,30 -28,30 -28,26 -30,24 -30,21 -32,19 -43,22 -30,12 -45,15 -30,8 -45,9 -45,6 -75,5 -90,-1 -75,-6 -60,-11 -60,-18 -60,-27 -60,-36 -45,-35 -48,-48 -48,-60 -38,-60 -31,-60 -29,-75 -23,-75 -16,-75 -12,-90 -7,-120 0,-165 7,-165 12,-150 17,-135 24,-135 28,-120 35,-120 40,-105 44,-95 49,-85 26,-38 30,-38 30,-34 30,-29 30,-25 30,-22 30,-18 30,-15 30,-11z" fill="#e3370b" transform="scale(.1)"/>
<path d="M3226,280l34,-8 30,-4 30,-2 45,0 45,4 30,6 30,8 30,10 30,13 30,17 30,19 30,22 30,27 30,30 30,34 26,34 49,73 45,84 43,98 38,105 30,105 28,120 21,120 17,135 10,135 5,135 1,165 -6,105 -11,90 -18,90 -22,75 -30,75 -23,45 -17,30 -42,60 -25,30 -29,30 -30,26 -30,24 -60,37 -37,18 -38,15 -30,10 -45,11 -75,12 -75,5 -90,0 -75,-7 -60,-12 -60,-18 -60,-27 -45,-27 -48,-37 -47,-45 -26,-30 -23,-30 -38,-60 -31,-60 -30,-75 -22,-75 -16,-75 -12,-90 -7,-120 0,-165 6,-150 11,-150 17,-135 21,-120 27,-120 35,-120 38,-105 41,-90 24,-45 27,-45 23,-34 30,-40 30,-34 30,-30 51,-42 54,-33 30,-13z" fill="#e4400d" transform="scale(.1)"/>
<path d="M3298,295l37,-2 45,2 60,8 30,8 30,11 30,13 30,16 30,20 30,23 30,26 30,31 30,34 27,35 48,74 45,85 42,96 36,105 30,105 27,120 20,120 15,135 10,135 4,135 0,135 -4,90 -10,90 -17,90 -21,75 -29,75 -30,60 -38,60 -23,30 -27,31 -30,30 -30,26 -30,22 -30,19 -60,31 -30,12 -45,14 -75,16 -75,7 -90,2 -75,-4 -60,-9 -60,-15 -60,-24 -60,-33 -48,-35 -48,-45 -39,-45 -41,-60 -33,-60 -32,-75 -24,-75 -17,-75 -13,-90 -7,-90 -2,-135 3,-165 10,-150 14,-135 21,-135 25,-120 33,-120 37,-105 41,-96 45,-84 29,-45 22,-30 24,-30 30,-33 30,-29 30,-24 30,-21 30,-17 30,-14 45,-15 30,-7z" fill="#e44a0f" transform="scale(.1)"/>
<path d="M3230,340l30,-7 30,-4 30,-3 45,1 45,4 30,5 30,8 30,11 30,13 30,17 30,19 30,23 30,27 30,31 45,54 48,71 27,48 21,42 40,90 38,105 30,105 26,120 20,120 14,120 9,120 5,135 0,150 -5,105 -11,90 -19,90 -23,75 -31,75 -39,71 -23,34 -22,28 -45,48 -30,27 -30,23 -60,36 -37,18 -38,15 -30,9 -45,11 -75,10 -75,4 -90,-1 -60,-7 -60,-12 -60,-20 -51,-24 -54,-34 -45,-37 -45,-46 -37,-48 -37,-60 -30,-60 -28,-75 -22,-75 -14,-75 -10,-75 -7,-120 0,-150 5,-150 10,-135 17,-135 20,-120 27,-120 31,-105 38,-105 41,-90 42,-75 29,-44 24,-31 21,-26 30,-31 30,-27 30,-23 30,-20 30,-16 30,-12z" fill="#e55312" transform="scale(.1)"/>
<path d="M3242,370l33,-7 30,-3 30,-1 45,1 60,9 30,8 30,11 30,14 30,16 30,20 30,23 30,27 30,31 45,56 45,67 45,83 42,95 33,94 30,105 26,116 20,120 14,120 8,120 5,135 0,135 -6,105 -11,90 -15,75 -22,75 -30,75 -34,65 -26,40 -19,25 -45,51 -30,27 -30,24 -30,20 -30,18 -30,15 -45,18 -30,10 -45,11 -75,11 -75,3 -90,-1 -60,-6 -60,-13 -60,-21 -45,-21 -45,-28 -47,-38 -44,-45 -25,-30 -21,-30 -36,-60 -28,-60 -23,-60 -21,-75 -15,-75 -11,-90 -6,-105 1,-165 6,-150 11,-135 18,-135 22,-120 25,-105 32,-105 34,-90 42,-90 43,-75 28,-41 27,-34 48,-51 30,-25 30,-22 30,-18 30,-15 30,-11z" fill="#e55c14" transform="scale(.1)"/>
<path d="M3253,400l37,-6 30,-2 45,0 30,2 60,11 30,10 30,12 30,15 30,18 45,34 30,28 30,31 45,56 45,69 45,85 37,87 36,105 29,105 22,105 19,120 13,120 8,120 4,120 -1,120 -5,105 -12,90 -15,75 -23,75 -30,75 -37,68 -25,37 -20,26 -45,49 -30,27 -30,22 -30,20 -30,17 -60,26 -30,9 -45,12 -75,11 -75,4 -90,-2 -60,-6 -60,-13 -60,-22 -45,-22 -45,-29 -45,-38 -44,-46 -34,-45 -36,-60 -29,-60 -22,-60 -21,-75 -15,-75 -12,-90 -5,-105 0,-165 6,-150 12,-135 16,-120 22,-120 25,-105 33,-105 34,-90 40,-84 45,-77 48,-64 42,-45 30,-27 30,-22 30,-19 30,-15 30,-12z" fill="#e66617" transform="scale(.1)"/>
<path d="M3262,430l58,-7 45,1 30,2 60,11 30,10 30,12 30,15 30,18 45,35 30,27 30,32 45,57 45,71 45,87 39,94 30,90 27,105 22,105 18,120 12,120 8,135 1,135 -2,105 -7,90 -14,90 -18,75 -26,75 -27,60 -35,60 -21,30 -24,30 -44,45 -29,25 -30,22 -30,18 -30,16 -60,25 -30,9 -45,10 -75,10 -75,3 -75,-2 -60,-7 -60,-13 -60,-22 -45,-24 -45,-30 -45,-39 -41,-46 -33,-45 -34,-60 -27,-60 -22,-60 -20,-75 -14,-75 -10,-90 -4,-105 1,-165 6,-135 12,-135 16,-120 23,-120 27,-105 30,-96 33,-84 42,-86 45,-74 45,-58 45,-47 30,-25 30,-21 30,-17 30,-14 30,-10z" fill="#e66f19" transform="scale(.1)"/>
<path d="M3270,460l50,-5 45,0 30,2 60,11 30,10 30,12 30,16 30,18 45,35 30,28 30,32 45,58 45,72 36,71 38,90 31,92 27,103 22,105 18,120 12,120 7,135 1,135 -2,90 -8,90 -14,90 -18,75 -27,75 -27,60 -36,60 -22,30 -25,30 -45,45 -28,23 -30,20 -60,33 -60,23 -60,15 -75,10 -75,3 -75,-2 -60,-7 -45,-9 -56,-19 -49,-24 -45,-29 -45,-38 -41,-44 -34,-45 -35,-60 -27,-60 -22,-60 -20,-75 -14,-75 -10,-90 -4,-105 1,-165 6,-135 11,-120 16,-120 20,-105 25,-105 33,-105 36,-90 44,-88 45,-71 45,-56 45,-44 30,-24 30,-19 30,-16 30,-13 30,-9z" fill="#e7791c" transform="scale(.1)"/>
<path d="M3275,490l30,-4 30,-1 45,1 30,4 30,6 30,8 30,11 30,14 30,17 30,20 45,38 45,47 45,59 45,74 33,66 37,90 30,90 23,90 22,105 16,105 12,120 7,120 2,120 -2,105 -6,90 -14,90 -17,75 -25,75 -27,60 -34,60 -21,30 -24,30 -43,45 -29,24 -29,21 -31,19 -30,15 -60,24 -60,16 -75,10 -75,3 -75,-2 -60,-7 -45,-10 -60,-22 -45,-22 -45,-31 -44,-38 -40,-45 -31,-45 -34,-60 -26,-60 -20,-60 -19,-75 -13,-75 -8,-75 -4,-105 1,-165 6,-135 11,-120 17,-120 21,-105 26,-105 29,-90 37,-90 37,-75 24,-39 24,-36 21,-27 28,-33 47,-44 30,-22 30,-18 45,-20 30,-10z" fill="#e8821e" transform="scale(.1)"/>
<path d="M3279,520l56,-4 45,1 30,3 30,6 30,8 30,11 30,14 30,17 30,21 45,38 45,48 45,60 37,62 38,75 36,90 29,90 25,99 19,96 15,105 11,120 5,120 1,135 -3,90 -6,75 -15,90 -19,75 -23,64 -30,65 -31,51 -21,30 -25,30 -46,45 -27,22 -30,21 -30,17 -30,15 -60,22 -60,14 -75,9 -90,1 -60,-3 -60,-9 -45,-12 -45,-17 -45,-24 -45,-32 -43,-39 -38,-45 -30,-45 -32,-60 -25,-60 -19,-60 -17,-75 -12,-75 -7,-75 -4,-105 2,-165 6,-120 12,-120 15,-105 20,-105 27,-105 29,-90 30,-75 41,-81 45,-71 45,-56 45,-43 30,-23 30,-18 30,-15 30,-12z" fill="#e98b20" transform="scale(.1)"/>
<path d="M3287,550l33,-3 30,0 60,4 30,6 30,8 30,11 30,14 30,18 30,21 45,38 45,49 43,59 45,75 32,68 32,82 28,90 22,90 20,105 14,105 9,105 5,120 1,120 -3,90 -7,75 -12,75 -18,75 -26,75 -28,60 -36,60 -35,45 -43,45 -28,23 -31,22 -29,17 -30,15 -60,23 -60,15 -75,9 -75,2 -60,-2 -60,-8 -45,-11 -45,-16 -30,-14 -26,-15 -42,-30 -37,-34 -36,-41 -31,-45 -33,-60 -25,-60 -19,-60 -17,-75 -12,-75 -7,-75 -4,-105 2,-150 6,-120 11,-120 15,-105 20,-105 25,-99 30,-92 32,-79 43,-83 45,-68 45,-53 45,-41 30,-21 30,-17 45,-19 30,-8z" fill="#ea9522" transform="scale(.1)"/>
<path d="M3295,580l25,-2 45,0 60,7 30,7 30,10 45,20 30,17 30,21 45,39 45,50 41,56 36,60 36,75 29,75 29,90 24,99 18,96 13,105 9,105 5,120 0,120 -4,90 -8,75 -13,75 -20,75 -22,60 -28,60 -37,60 -36,45 -46,45 -26,20 -30,21 -30,17 -30,14 -49,18 -63,15 -68,8 -75,2 -60,-2 -60,-8 -45,-11 -45,-17 -45,-24 -45,-31 -40,-37 -38,-45 -30,-45 -24,-45 -25,-60 -19,-60 -18,-75 -11,-75 -7,-75 -4,-105 2,-150 6,-120 11,-120 16,-105 21,-105 25,-94 29,-86 31,-75 23,-45 22,-39 45,-65 40,-46 20,-19 30,-24 45,-28 30,-14 30,-10z" fill="#ec9e23" transform="scale(.1)"/>
<path d="M3302,610l63,-1 60,7 30,7 30,9 45,20 30,18 30,21 45,40 45,50 38,54 37,63 34,72 29,75 28,90 21,90 19,105 12,105 8,105 3,105 0,120 -4,75 -8,75 -13,75 -20,75 -23,60 -29,60 -38,60 -37,45 -49,45 -53,37 -45,23 -60,22 -60,13 -75,8 -75,1 -45,-2 -60,-8 -45,-12 -45,-17 -45,-25 -45,-33 -38,-37 -36,-45 -29,-45 -22,-45 -24,-60 -18,-60 -17,-75 -10,-75 -6,-75 -3,-105 2,-150 7,-120 11,-105 16,-105 19,-90 24,-90 30,-90 34,-79 39,-71 36,-54 45,-52 45,-39 30,-21 30,-16 45,-17 30,-7z" fill="#eea824" transform="scale(.1)"/>
<path d="M3310,640l55,-1 60,7 30,7 30,10 45,20 45,28 45,37 45,47 45,61 41,69 34,74 29,76 22,75 22,90 18,105 13,105 7,105 3,105 -1,120 -5,75 -9,75 -15,75 -17,60 -22,60 -30,60 -30,46 -22,29 -23,26 -45,41 -45,31 -45,24 -60,23 -60,14 -75,8 -75,1 -54,-3 -51,-8 -45,-12 -45,-18 -45,-25 -45,-35 -36,-37 -34,-45 -27,-45 -22,-45 -23,-60 -16,-60 -15,-75 -10,-75 -5,-75 -2,-120 2,-120 8,-120 11,-105 17,-105 19,-90 25,-90 26,-75 33,-75 34,-62 45,-65 45,-50 45,-37 45,-27 30,-12 30,-9z" fill="#efb125" transform="scale(.1)"/>
<path d="M3318,670l62,1 60,9 30,8 30,11 45,23 45,31 45,41 45,52 34,49 41,75 30,68 29,82 21,75 19,90 15,90 11,105 6,105 2,90 -1,105 -5,75 -9,75 -15,75 -17,60 -24,60 -32,63 -39,57 -36,40 -45,39 -45,30 -53,26 -52,18 -60,12 -75,6 -75,0 -45,-3 -60,-11 -45,-14 -45,-22 -45,-29 -36,-32 -27,-30 -33,-45 -26,-45 -20,-45 -22,-60 -15,-60 -14,-75 -8,-75 -4,-75 -2,-120 3,-120 7,-105 12,-105 17,-105 20,-90 27,-90 28,-75 33,-71 38,-64 37,-51 45,-46 45,-35 45,-24 45,-16 30,-5z" fill="#f1bb27" transform="scale(.1)"/>
<path d="M3330,700l50,1 60,9 30,9 30,11 45,23 45,31 45,41 45,54 40,61 35,66 30,72 28,87 20,75 17,90 13,90 9,105 5,105 0,105 -2,75 -7,75 -11,75 -19,75 -20,60 -28,60 -26,45 -33,45 -36,39 -45,37 -46,29 -44,20 -60,20 -60,11 -75,5 -60,-1 -60,-5 -45,-10 -45,-15 -45,-22 -30,-20 -34,-28 -41,-45 -32,-45 -24,-45 -25,-60 -18,-60 -14,-60 -11,-75 -6,-75 -3,-75 -1,-120 4,-105 8,-105 13,-105 16,-90 21,-90 23,-75 28,-75 36,-74 30,-50 45,-59 45,-45 45,-32 45,-21 45,-13 30,-5z" fill="#f3c428" transform="scale(.1)"/>
<path d="M3244,745l46,-11 30,-3 30,0 60,4 30,6 30,8 45,18 45,26 45,35 45,46 39,51 36,59 30,61 24,60 25,75 19,75 18,90 12,90 8,90 5,105 0,120 -4,90 -9,75 -14,75 -17,60 -23,60 -29,58 -30,47 -24,30 -21,22 -45,39 -45,30 -30,15 -30,13 -60,17 -60,10 -60,3 -60,0 -45,-4 -45,-8 -45,-13 -41,-19 -34,-21 -31,-24 -31,-30 -36,-45 -27,-45 -21,-45 -17,-45 -17,-60 -13,-60 -8,-60 -7,-90 -3,-90 1,-120 6,-120 10,-105 14,-90 18,-90 20,-75 26,-75 32,-75 32,-60 37,-55 30,-35 45,-42 45,-29z" fill="#f5ce29" transform="scale(.1)"/>
<path d="M3250,775l40,-9 30,-3 30,-1 60,5 30,6 30,8 45,18 45,26 45,35 35,35 40,51 30,47 30,58 30,72 24,72 21,84 15,81 13,90 7,90 4,105 0,105 -4,90 -9,75 -14,75 -17,60 -24,60 -31,60 -31,45 -25,30 -19,20 -45,37 -45,28 -45,21 -60,18 -60,10 -60,3 -60,0 -45,-4 -45,-8 -45,-15 -30,-13 -37,-22 -38,-30 -30,-31 -30,-40 -21,-34 -22,-45 -17,-45 -17,-60 -12,-60 -9,-60 -7,-90 -2,-90 1,-135 6,-105 9,-90 13,-90 18,-87 21,-78 24,-71 27,-64 33,-62 30,-46 35,-42 40,-38 45,-30 30,-15z" fill="#f7d72a" transform="scale(.1)"/>
<path d="M3257,805l48,-9 60,-2 60,7 45,11 45,18 45,26 45,36 30,30 45,58 30,50 30,60 24,60 21,66 21,84 14,75 12,90 7,90 4,105 -1,105 -5,90 -10,75 -12,60 -18,60 -24,60 -32,60 -31,43 -30,34 -45,40 -45,29 -45,21 -60,19 -60,10 -45,3 -60,1 -45,-3 -45,-7 -38,-10 -38,-15 -44,-25 -30,-24 -30,-29 -30,-38 -22,-34 -22,-45 -18,-45 -17,-60 -12,-60 -8,-60 -7,-90 -3,-90 1,-120 6,-105 8,-90 13,-90 16,-75 20,-79 30,-86 26,-60 33,-60 31,-45 30,-35 45,-41 45,-27z" fill="#f9e12c" transform="scale(.1)"/>
<path d="M3265,835l40,-8 60,-1 60,7 45,11 45,18 45,26 45,37 30,31 30,38 33,51 27,53 30,73 22,69 19,75 14,75 11,90 7,90 3,90 -1,105 -4,75 -9,75 -11,60 -17,60 -23,60 -26,52 -35,53 -40,44 -36,31 -46,30 -53,24 -45,14 -60,11 -45,3 -60,0 -45,-2 -45,-8 -43,-12 -32,-14 -30,-17 -39,-29 -30,-30 -24,-30 -28,-45 -21,-45 -16,-45 -13,-45 -12,-60 -8,-60 -7,-90 -2,-90 1,-120 6,-105 9,-90 14,-90 16,-75 19,-71 28,-79 27,-60 34,-60 31,-42 30,-33 45,-38 45,-25z" fill="#fbea2d" transform="scale(.1)"/>
<path d="M3275,865l45,-7 60,1 60,9 41,12 34,14 45,27 45,36 30,32 30,40 30,48 30,61 27,72 19,60 17,75 13,75 11,90 5,90 2,105 -2,90 -6,75 -11,73 -15,62 -15,48 -24,57 -26,45 -32,45 -38,41 -43,34 -47,27 -45,19 -45,12 -60,9 -45,2 -60,0 -45,-4 -30,-6 -45,-14 -30,-14 -30,-17 -36,-29 -29,-30 -25,-34 -24,-41 -20,-45 -15,-45 -12,-45 -11,-60 -7,-60 -5,-90 -2,-105 2,-105 5,-90 9,-90 12,-75 16,-75 21,-75 21,-60 27,-60 28,-51 38,-54 37,-39 30,-25 45,-26z" fill="#fdf42e" transform="scale(.1)"/>
<path d="M3288,895l47,-5 60,3 45,7 45,14 45,20 30,19 45,38 30,33 30,41 30,51 23,49 23,60 18,60 18,75 13,75 10,90 5,90 2,90 -2,75 -5,78 -10,72 -14,60 -19,60 -18,45 -29,52 -30,42 -38,41 -37,30 -45,27 -45,20 -48,13 -57,9 -45,2 -60,0 -45,-5 -30,-6 -45,-14 -30,-15 -30,-19 -30,-25 -30,-32 -22,-30 -23,-41 -15,-34 -16,-45 -12,-45 -10,-60 -7,-60 -5,-90 -2,-120 2,-90 5,-90 10,-90 13,-75 17,-75 20,-68 25,-67 30,-60 35,-56 27,-34 33,-32 17,-13 28,-18 30,-15z" fill="#ffff30" transform="scale(.1)"/>
<path d="M3283,940l37,-5 60,0 45,6 45,11 45,17 30,17 45,35 30,31 30,39 30,49 26,55 19,48 18,57 18,75 13,75 9,75 5,75 2,90 -2,90 -5,75 -8,60 -13,60 -18,60 -19,48 -30,55 -30,41 -34,36 -37,30 -49,29 -39,16 -51,14 -45,6 -45,3 -60,0 -45,-5 -30,-7 -30,-9 -30,-14 -30,-18 -30,-24 -21,-21 -24,-30 -19,-30 -22,-45 -17,-45 -11,-45 -9,-45 -8,-60 -5,-75 -2,-105 1,-105 4,-90 10,-90 11,-75 17,-75 17,-60 22,-60 26,-57 30,-51 30,-40 30,-31 40,-31 35,-18z" fill="#f7fe31" transform="scale(.1)"/>
<path d="M3269,1015l36,-8 45,-2 60,4 45,8 45,15 30,15 30,20 30,26 30,34 30,44 21,39 24,54 18,51 16,60 12,60 11,75 6,75 4,90 -1,90 -5,75 -7,60 -12,60 -18,60 -18,45 -24,45 -27,39 -32,36 -35,30 -38,24 -45,21 -45,12 -45,8 -45,3 -45,0 -30,-2 -38,-6 -22,-6 -30,-10 -30,-16 -30,-21 -24,-22 -21,-24 -24,-36 -16,-30 -12,-30 -14,-45 -10,-45 -7,-45 -5,-60 -3,-90 -1,-120 3,-90 6,-75 8,-63 13,-72 15,-60 19,-60 25,-60 18,-34 30,-47 30,-35 30,-27 30,-20z" fill="#eefd32" transform="scale(.1)"/>
<path d="M3272,1090l33,-8 45,-3 60,4 45,7 30,9 30,13 30,19 30,25 23,24 22,30 27,45 20,45 17,45 17,60 12,60 9,60 5,60 4,75 -1,90 -3,75 -7,60 -10,53 -14,52 -17,45 -22,45 -22,35 -30,36 -30,27 -30,22 -45,23 -45,14 -45,9 -45,3 -45,0 -30,-2 -30,-5 -30,-8 -30,-13 -30,-18 -15,-11 -23,-22 -22,-27 -15,-24 -15,-29 -15,-39 -9,-31 -7,-30 -6,-45 -5,-60 -2,-60 0,-150 3,-75 4,-60 7,-60 11,-60 14,-60 20,-60 15,-37 19,-38 26,-42 30,-36 30,-27 30,-19z" fill="#e4fd33" transform="scale(.1)"/>
<path d="M3295,1165l25,-4 45,-1 45,2 45,7 30,8 30,14 28,19 17,15 27,30 21,30 24,45 18,45 14,45 11,45 8,45 8,60 4,60 1,75 -1,75 -5,60 -8,60 -10,45 -14,45 -19,45 -19,35 -29,40 -30,30 -19,15 -27,17 -45,20 -30,9 -45,7 -75,2 -30,-2 -30,-6 -45,-17 -26,-15 -19,-15 -15,-15 -24,-30 -24,-45 -12,-30 -8,-30 -7,-32 -6,-43 -3,-90 2,-180 2,-60 5,-55 7,-50 8,-45 15,-57 15,-45 15,-35 23,-43 22,-31 27,-29 18,-15 30,-18z" fill="#dbfc35" transform="scale(.1)"/>
<path d="M3313,1240l22,-2 75,1 30,2 30,6 21,8 24,13 15,11 23,21 22,27 15,24 15,29 16,40 14,45 10,45 7,45 6,60 3,60 -1,75 -3,60 -4,45 -7,45 -11,45 -15,43 -15,32 -17,30 -23,30 -20,21 -30,24 -30,17 -30,12 -30,8 -45,7 -45,1 -30,-1 -45,-9 -15,-5 -30,-15 -30,-23 -15,-16 -15,-20 -15,-26 -9,-20 -10,-30 -8,-30 -8,-60 -1,-60 6,-240 6,-60 7,-45 18,-75 14,-40 16,-35 17,-30 27,-36 15,-14 30,-22 30,-13z" fill="#d1fa38" transform="scale(.1)"/>
<path d="M3305,1330l30,-4 75,-2 30,1 30,7 15,6 15,8 18,14 15,15 22,30 17,30 12,30 10,30 11,45 10,75 4,60 -1,60 -2,60 -4,45 -7,45 -7,30 -9,30 -14,35 -15,28 -19,27 -26,28 -22,17 -23,14 -30,13 -30,8 -30,4 -45,1 -45,-4 -24,-6 -21,-9 -30,-20 -15,-14 -14,-17 -17,-30 -17,-45 -6,-30 -4,-30 -1,-60 6,-105 4,-120 6,-60 13,-65 13,-40 12,-30 20,-36 15,-20 15,-16 15,-12 15,-9z" fill="#c8f93a" transform="scale(.1)"/>
<path d="M3372,1435l38,-6 15,-1 15,2 15,4 15,7 15,11 15,15 15,21 12,22 18,53 12,67 3,75 -1,60 -3,45 -11,71 -15,47 -16,32 -14,20 -15,17 -30,24 -28,14 -17,5 -45,8 -45,0 -30,-5 -15,-5 -30,-19 -15,-14 -15,-21 -17,-39 -9,-45 -2,-45 2,-30 11,-90 3,-90 9,-60 12,-45 6,-16 15,-29 15,-20 15,-15 15,-10 15,-7 15,-3z" fill="#bff83d" transform="scale(.1)"/>
</g>
<rect x="50" y="0" width="360" height="1.2" fill="#fff"/><rect x="50" y="285.6" width="360" height="1.4" fill="#fff"/>
<filter id="bl" x="-5%" y="-5%" width="110%" height="110%"><feGaussianBlur stdDeviation="0.55"/></filter>
<g fill="#1208f6" filter="url(#bl)">
<circle cx="65.0" cy="11.2" r="3.4"/>
<circle cx="65.0" cy="31.2" r="3.4"/>
<circle cx="65.0" cy="51.2" r="3.4"/>
<circle cx="65.0" cy="71.2" r="3.4"/>
<circle cx="65.0" cy="91.2" r="3.4"/>
<circle cx="65.0" cy="111.2" r="3.4"/>
<circle cx="65.0" cy="131.2" r="3.4"/>
<circle cx="65.0" cy="151.2" r="3.4"/>
<circle cx="65.0" cy="171.2" r="3.4"/>
<circle cx="65.0" cy="191.2" r="3.4"/>
<circle cx="65.0" cy="211.2" r="3.4"/>
<circle cx="65.0" cy="231.2" r="3.4"/>
<circle cx="65.0" cy="251.2" r="3.4"/>
<circle cx="65.0" cy="271.2" r="3.4"/>
<circle cx="85.2" cy="11.2" r="3.4"/>
<circle cx="85.2" cy="31.2" r="3.4"/>
<circle cx="85.2" cy="51.2" r="3.4"/>
<circle cx="85.2" cy="71.2" r="3.4"/>
<circle cx="85.2" cy="91.2" r="3.4"/>
<circle cx="85.2" cy="111.2" r="3.4"/>
<circle cx="85.2" cy="131.2" r="3.4"/>
<circle cx="85.2" cy="151.2" r="3.4"/>
<circle cx="85.2" cy="171.2" r="3.4"/>
<circle cx="85.2" cy="191.2" r="3.4"/>
<circle cx="85.2" cy="211.2" r="3.4"/>
<circle cx="85.2" cy="231.2" r="3.4"/>
<circle cx="85.2" cy="251.2" r="3.4"/>
<circle cx="85.2" cy="271.2" r="3.4"/>
<circle cx="105.4" cy="11.2" r="3.4"/>
<circle cx="105.4" cy="31.2" r="3.4"/>
<circle cx="105.4" cy="51.2" r="3.4"/>
<circle cx="105.4" cy="71.2" r="3.4"/>
<circle cx="105.4" cy="91.2" r="3.4"/>
<circle cx="105.4" cy="111.2" r="3.4"/>
<circle cx="105.4" cy="131.2" r="3.4"/>
<circle cx="105.4" cy="151.2" r="3.4"/>
<circle cx="105.4" cy="171.2" r="3.4"/>
<circle cx="105.4" cy="191.2" r="3.4"/>
<circle cx="105.4" cy="211.2" r="3.4"/>
<circle cx="105.4" cy="231.2" r="3.4"/>
<circle cx="105.4" cy="251.2" r="3.4"/>
<circle cx="105.4" cy="271.2" r="3.4"/>
<circle cx="125.6" cy="11.2" r="3.4"/>
<circle cx="125.6" cy="31.2" r="3.4"/>
<circle cx="125.6" cy="51.2" r="3.4"/>
<circle cx="125.6" cy="71.2" r="3.4"/>
<circle cx="125.6" cy="91.2" r="3.4"/>
<circle cx="125.6" cy="111.2" r="3.4"/>
<circle cx="125.6" cy="131.2" r="3.4"/>
<circle cx="125.6" cy="151.2" r="3.4"/>
<circle cx="125.6" cy="171.2" r="3.4"/>
<circle cx="125.6" cy="191.2" r="3.4"/>
<circle cx="125.6" cy="211.2" r="3.4"/>
<circle cx="125.6" cy="231.2" r="3.4"/>
<circle cx="125.6" cy="251.2" r="3.4"/>
<circle cx="125.6" cy="271.2" r="3.4"/>
<circle cx="145.8" cy="11.2" r="3.4"/>
<circle cx="145.8" cy="31.2" r="3.4"/>
<circle cx="145.8" cy="51.2" r="3.4"/>
<circle cx="145.8" cy="71.2" r="3.4"/>
<circle cx="145.8" cy="91.2" r="3.4"/>
<circle cx="145.8" cy="111.2" r="3.4"/>
<circle cx="145.8" cy="131.2" r="3.4"/>
<circle cx="145.8" cy="151.2" r="3.4"/>
<circle cx="145.8" cy="171.2" r="3.4"/>
<circle cx="145.8" cy="191.2" r="3.4"/>
<circle cx="145.8" cy="211.2" r="3.4"/>
<circle cx="145.8" cy="231.2" r="3.4"/>
<circle cx="145.8" cy="251.2" r="3.4"/>
<circle cx="145.8" cy="271.2" r="3.4"/>
<circle cx="166.0" cy="11.2" r="3.4"/>
<circle cx="166.0" cy="31.2" r="3.4"/>
<circle cx="166.0" cy="51.2" r="3.4"/>
<circle cx="166.0" cy="71.2" r="3.4"/>
<circle cx="166.0" cy="91.2" r="3.4"/>
<circle cx="166.0" cy="111.2" r="3.4"/>
<circle cx="166.0" cy="131.2" r="3.4"/>
<circle cx="166.0" cy="151.2" r="3.4"/>
<circle cx="166.0" cy="171.2" r="3.4"/>
<circle cx="166.0" cy="191.2" r="3.4"/>
<circle cx="166.0" cy="211.2" r="3.4"/>
<circle cx="166.0" cy="231.2" r="3.4"/>
<circle cx="166.0" cy="251.2" r="3.4"/>
<circle cx="166.0" cy="271.2" r="3.4"/>
<circle cx="186.2" cy="11.2" r="3.4"/>
<circle cx="186.2" cy="31.2" r="3.4"/>
<circle cx="186.2" cy="51.2" r="3.4"/>
<circle cx="186.2" cy="71.2" r="3.4"/>
<circle cx="186.2" cy="91.2" r="3.4"/>
<circle cx="186.2" cy="111.2" r="3.4"/>
<circle cx="186.2" cy="131.2" r="3.4"/>
<circle cx="186.2" cy="151.2" r="3.4"/>
<circle cx="186.2" cy="171.2" r="3.4"/>
<circle cx="186.2" cy="191.2" r="3.4"/>
<circle cx="186.2" cy="211.2" r="3.4"/>
<circle cx="186.2" cy="231.2" r="3.4"/>
<circle cx="186.2" cy="251.2" r="3.4"/>
<circle cx="186.2" cy="271.2" r="3.4"/>
<circle cx="206.4" cy="11.2" r="3.4"/>
<circle cx="206.4" cy="31.2" r="3.4"/>
<circle cx="206.4" cy="51.2" r="3.4"/>
<circle cx="206.4" cy="71.2" r="3.4"/>
<circle cx="206.4" cy="91.2" r="3.4"/>
<circle cx="206.4" cy="111.2" r="3.4"/>
<circle cx="206.4" cy="131.2" r="3.4"/>
<circle cx="206.4" cy="151.2" r="3.4"/>
<circle cx="206.4" cy="171.2" r="3.4"/>
<circle cx="206.4" cy="191.2" r="3.4"/>
<circle cx="206.4" cy="211.2" r="3.4"/>
<circle cx="206.4" cy="231.2" r="3.4"/>
<circle cx="206.4" cy="251.2" r="3.4"/>
<circle cx="206.4" cy="271.2" r="3.4"/>
<circle cx="251.9" cy="10.0" r="3.4"/>
<circle cx="251.9" cy="29.0" r="3.4"/>
<circle cx="251.9" cy="59.2" r="3.4"/>
<circle cx="251.9" cy="79.1" r="3.4"/>
<circle cx="251.9" cy="99.0" r="3.4"/>
<circle cx="251.9" cy="118.9" r="3.4"/>
<circle cx="251.9" cy="138.8" r="3.4"/>
<circle cx="251.9" cy="158.7" r="3.4"/>
<circle cx="251.9" cy="178.6" r="3.4"/>
<circle cx="251.9" cy="198.5" r="3.4"/>
<circle cx="251.9" cy="218.4" r="3.4"/>
<circle cx="251.9" cy="238.3" r="3.4"/>
<circle cx="251.9" cy="258.2" r="3.4"/>
<circle cx="251.9" cy="278.1" r="3.4"/>
<circle cx="271.6" cy="10.0" r="3.4"/>
<circle cx="271.6" cy="29.0" r="3.4"/>
<circle cx="271.6" cy="59.2" r="3.4"/>
<circle cx="271.6" cy="79.1" r="3.4"/>
<circle cx="271.6" cy="99.0" r="3.4"/>
<circle cx="271.6" cy="118.9" r="3.4"/>
<circle cx="271.6" cy="138.8" r="3.4"/>
<circle cx="271.6" cy="158.7" r="3.4"/>
<circle cx="271.6" cy="178.6" r="3.4"/>
<circle cx="271.6" cy="198.5" r="3.4"/>
<circle cx="271.6" cy="218.4" r="3.4"/>
<circle cx="271.6" cy="238.3" r="3.4"/>
<circle cx="271.6" cy="258.2" r="3.4"/>
<circle cx="271.6" cy="278.1" r="3.4"/>
<circle cx="291.3" cy="10.0" r="3.4"/>
<circle cx="291.3" cy="29.0" r="3.4"/>
<circle cx="291.3" cy="59.2" r="3.4"/>
<circle cx="291.3" cy="79.1" r="3.4"/>
<circle cx="291.3" cy="99.0" r="3.4"/>
<circle cx="291.3" cy="118.9" r="3.4"/>
<circle cx="291.3" cy="138.8" r="3.4"/>
<circle cx="291.3" cy="158.7" r="3.4"/>
<circle cx="291.3" cy="178.6" r="3.4"/>
<circle cx="291.3" cy="198.5" r="3.4"/>
<circle cx="291.3" cy="218.4" r="3.4"/>
<circle cx="291.3" cy="238.3" r="3.4"/>
<circle cx="291.3" cy="258.2" r="3.4"/>
<circle cx="291.3" cy="278.1" r="3.4"/>
<circle cx="311.0" cy="10.0" r="3.4"/>
<circle cx="311.0" cy="29.0" r="3.4"/>
<circle cx="311.0" cy="59.2" r="3.4"/>
<circle cx="311.0" cy="79.1" r="3.4"/>
<circle cx="311.0" cy="99.0" r="3.4"/>
<circle cx="311.0" cy="118.9" r="3.4"/>
<circle cx="311.0" cy="138.8" r="3.4"/>
<circle cx="311.0" cy="158.7" r="3.4"/>
<circle cx="311.0" cy="178.6" r="3.4"/>
<circle cx="311.0" cy="198.5" r="3.4"/>
<circle cx="311.0" cy="218.4" r="3.4"/>
<circle cx="311.0" cy="238.3" r="3.4"/>
<circle cx="311.0" cy="258.2" r="3.4"/>
<circle cx="311.0" cy="278.1" r="3.4"/>
<circle cx="330.7" cy="10.0" r="3.4"/>
<circle cx="330.7" cy="29.0" r="3.4"/>
<circle cx="330.7" cy="59.2" r="3.4"/>
<circle cx="330.7" cy="79.1" r="3.4"/>
<circle cx="330.7" cy="99.0" r="3.4"/>
<circle cx="330.7" cy="118.9" r="3.4"/>
<circle cx="330.7" cy="138.8" r="3.4"/>
<circle cx="330.7" cy="158.7" r="3.4"/>
<circle cx="330.7" cy="178.6" r="3.4"/>
<circle cx="330.7" cy="198.5" r="3.4"/>
<circle cx="330.7" cy="218.4" r="3.4"/>
<circle cx="330.7" cy="238.3" r="3.4"/>
<circle cx="330.7" cy="258.2" r="3.4"/>
<circle cx="330.7" cy="278.1" r="3.4"/>
<circle cx="350.4" cy="10.0" r="3.4"/>
<circle cx="350.4" cy="29.0" r="3.4"/>
<circle cx="350.4" cy="59.2" r="3.4"/>
<circle cx="350.4" cy="79.1" r="3.4"/>
<circle cx="350.4" cy="99.0" r="3.4"/>
<circle cx="350.4" cy="118.9" r="3.4"/>
<circle cx="350.4" cy="138.8" r="3.4"/>
<circle cx="350.4" cy="158.7" r="3.4"/>
<circle cx="350.4" cy="178.6" r="3.4"/>
<circle cx="350.4" cy="198.5" r="3.4"/>
<circle cx="350.4" cy="218.4" r="3.4"/>
<circle cx="350.4" cy="238.3" r="3.4"/>
<circle cx="350.4" cy="258.2" r="3.4"/>
<circle cx="350.4" cy="278.1" r="3.4"/>
<circle cx="370.1" cy="10.0" r="3.4"/>
<circle cx="370.1" cy="29.0" r="3.4"/>
<circle cx="370.1" cy="59.2" r="3.4"/>
<circle cx="370.1" cy="79.1" r="3.4"/>
<circle cx="370.1" cy="99.0" r="3.4"/>
<circle cx="370.1" cy="118.9" r="3.4"/>
<circle cx="370.1" cy="138.8" r="3.4"/>
<circle cx="370.1" cy="158.7" r="3.4"/>
<circle cx="370.1" cy="178.6" r="3.4"/>
<circle cx="370.1" cy="198.5" r="3.4"/>
<circle cx="370.1" cy="218.4" r="3.4"/>
<circle cx="370.1" cy="238.3" r="3.4"/>
<circle cx="370.1" cy="258.2" r="3.4"/>
<circle cx="370.1" cy="278.1" r="3.4"/>
<circle cx="389.8" cy="10.0" r="3.4"/>
<circle cx="389.8" cy="29.0" r="3.4"/>
<circle cx="389.8" cy="59.2" r="3.4"/>
<circle cx="389.8" cy="79.1" r="3.4"/>
<circle cx="389.8" cy="99.0" r="3.4"/>
<circle cx="389.8" cy="118.9" r="3.4"/>
<circle cx="389.8" cy="138.8" r="3.4"/>
<circle cx="389.8" cy="158.7" r="3.4"/>
<circle cx="389.8" cy="178.6" r="3.4"/>
<circle cx="389.8" cy="198.5" r="3.4"/>
<circle cx="389.8" cy="218.4" r="3.4"/>
<circle cx="389.8" cy="238.3" r="3.4"/>
<circle cx="389.8" cy="258.2" r="3.4"/>
<circle cx="389.8" cy="278.1" r="3.4"/>
</g>
<text x="126.2" y="13.5" font-size="14.5" fill="#fff" stroke="#fff" textLength="22.7" lengthAdjust="spacingAndGlyphs">top</text>
<text x="112.3" y="281.1" font-size="14.5" fill="#fff" stroke="#fff" textLength="50.5" lengthAdjust="spacingAndGlyphs">bottom</text>
<text x="311.5" y="13.1" font-size="14.5" fill="#fff" stroke="#fff" textLength="22.7" lengthAdjust="spacingAndGlyphs">top</text>
<text x="297.7" y="281.1" font-size="14.5" fill="#fff" stroke="#fff" textLength="50.0" lengthAdjust="spacingAndGlyphs">bottom</text>
<rect x="185.8" y="252.4" width="22.2" height="21.2" fill="#fff"/>
<text x="189.9" y="268.9" font-size="18" fill="#000" stroke="#000" textLength="12.9" lengthAdjust="spacingAndGlyphs">Si</text>
<rect x="358.2" y="252.1" width="41.7" height="24.2" fill="#fff"/>
<text x="361.9" y="269.3" font-size="18" stroke="#000" textLength="33.6" lengthAdjust="spacingAndGlyphs">SiO<tspan font-size="13" dy="1.7">2</tspan></text>
<linearGradient id="cb" x1="0" y1="1" x2="0" y2="0">
<stop offset="0.0" stop-color="#0c0000"/>
<stop offset="0.27" stop-color="#e00000"/>
<stop offset="0.375" stop-color="#e4460e"/>
<stop offset="0.5" stop-color="#e88820"/>
<stop offset="0.62" stop-color="#f3c628"/>
<stop offset="0.735" stop-color="#ffff30"/>
<stop offset="0.87" stop-color="#defc34"/>
<stop offset="1.0" stop-color="#baf73e"/>
</linearGradient>
<rect x="425.2" y="1.2" width="28.0" height="284.4" fill="url(#cb)"/>
<text x="463.6" y="14.75" font-size="14.5" fill="#000" stroke="#000" textLength="34.6" lengthAdjust="spacingAndGlyphs">-1.00</text>
<text x="463.6" y="80.7" font-size="14.5" fill="#000" stroke="#000" textLength="34.6" lengthAdjust="spacingAndGlyphs">-0.75</text>
<text x="463.6" y="149.2" font-size="14.5" fill="#000" stroke="#000" textLength="34.6" lengthAdjust="spacingAndGlyphs">-0.50</text>
<text x="463.6" y="216.4" font-size="14.5" fill="#000" stroke="#000" textLength="34.6" lengthAdjust="spacingAndGlyphs">-0.25</text>
<text x="463.6" y="285" font-size="14.5" fill="#000" stroke="#000" textLength="7.5" lengthAdjust="spacingAndGlyphs">0</text>
<text transform="translate(500.2,294.8) rotate(-90)" font-size="14.5" stroke="#000" textLength="64.4" lengthAdjust="spacingAndGlyphs">z / arb. u.</text>
<text x="4" y="17.9" font-size="19" fill="#000" stroke="#000" textLength="22.5" lengthAdjust="spacingAndGlyphs">(a)</text>
<text x="4" y="317.7" font-size="19" fill="#000" stroke="#000" textLength="23.3" lengthAdjust="spacingAndGlyphs">(b)</text>
<g stroke="#cecece" stroke-width="1">
<line x1="110.2" y1="308.4" x2="110.2" y2="602.8"/>
<line x1="167.1" y1="308.4" x2="167.1" y2="602.8"/>
<line x1="223.9" y1="308.4" x2="223.9" y2="602.8"/>
<line x1="280.7" y1="308.4" x2="280.7" y2="602.8"/>
<line x1="337.5" y1="308.4" x2="337.5" y2="602.8"/>
<line x1="394.3" y1="308.4" x2="394.3" y2="602.8"/>
<line x1="451.2" y1="308.4" x2="451.2" y2="602.8"/>
<line x1="53.4" y1="366.4" x2="508" y2="366.4"/>
<line x1="53.4" y1="425.5" x2="508" y2="425.5"/>
<line x1="53.4" y1="484.7" x2="508" y2="484.7"/>
<line x1="53.4" y1="543.6" x2="508" y2="543.6"/>
</g>
<rect x="406.3" y="517.5" width="96.3" height="43.5" fill="#fff"/>
<rect x="69.5" y="517.5" width="93.1" height="43.5" fill="#fff"/>
<rect x="416" y="434.6" width="42.0" height="23.4" fill="#fff"/>
<polyline points="53.4,310.5 55.7,310.8 57.9,311.2 60.2,311.6 62.5,312.0 64.8,312.5 67.0,313.0 69.3,313.6 71.6,314.2 73.9,315.0 76.1,315.8 78.4,316.7 80.7,317.7 82.9,318.8 85.2,319.9 87.5,321.2 89.8,322.7 92.0,324.2 94.3,325.9 96.6,327.7 98.9,329.7 101.1,331.9 103.4,334.2 105.7,336.7 108.0,339.4 110.2,342.2 112.5,345.3 114.8,348.6 117.0,352.1 119.3,355.8 121.6,359.7 123.9,363.9 126.1,368.3 128.4,372.9 130.7,377.7 133.0,382.8 135.2,388.1 137.5,393.7 139.8,399.4 142.0,405.4 144.3,411.6 146.6,417.9 148.9,424.5 151.1,431.2 153.4,438.1 155.7,445.1 158.0,452.3 160.2,459.5 162.5,466.9 164.8,474.3 167.1,481.7 169.3,489.2 171.6,496.6 173.9,504.1 176.1,511.4 178.4,518.6 180.7,525.8 183.0,532.7 185.2,539.5 187.5,546.1 189.8,552.4 192.1,558.5 194.3,564.2 196.6,569.7 198.9,574.8 201.1,579.5 203.4,583.8 205.7,587.8 208.0,591.3 210.2,594.3 212.5,596.9 214.8,599.0 217.1,600.7 219.3,601.9 221.6,602.6 223.9,602.8 226.1,602.6 228.4,601.8 230.7,600.6 233.0,598.8 235.2,596.6 237.5,594.0 239.8,590.8 242.1,587.3 244.3,583.3 246.6,578.9 248.9,574.1 251.2,569.0 253.4,563.5 255.7,557.8 258.0,551.7 260.2,545.4 262.5,538.9 264.8,532.2 267.1,525.3 269.3,518.2 271.6,511.1 273.9,503.8 276.2,496.5 278.4,489.2 280.7,481.8 283.0,474.5 285.2,467.2 287.5,460.0 289.8,452.8 292.1,445.8 294.3,438.9 296.6,432.1 298.9,425.5 301.2,419.0 303.4,412.7 305.7,406.7 308.0,400.8 310.2,395.1 312.5,389.6 314.8,384.4 317.1,379.3 319.3,374.5 321.6,369.9 323.9,365.5 326.2,361.4 328.4,357.5 330.7,353.8 333.0,350.2 335.3,346.9 337.5,343.8 339.8,340.9 342.1,338.2 344.3,335.7 346.6,333.3 348.9,331.1 351.2,329.1 353.4,327.2 355.7,325.5 358.0,323.8 360.3,322.4 362.5,321.0 364.8,319.8 367.1,318.6 369.3,317.6 371.6,316.6 373.9,315.8 376.2,315.0 378.4,314.3 380.7,313.6 383.0,313.0 385.3,312.5 387.5,312.1 389.8,311.6 392.1,311.3 394.3,310.9 396.6,310.6 398.9,310.3 401.2,310.1 403.4,309.9 405.7,309.7 408.0,309.5 410.3,309.4 412.5,309.3 414.8,309.1 417.1,309.0 419.4,309.0 421.6,308.9 423.9,308.8 426.2,308.8 428.4,308.7 430.7,308.7 433.0,308.6 435.3,308.6 437.5,308.6 439.8,308.5 442.1,308.5 444.4,308.5 446.6,308.5 448.9,308.5 451.2,308.5 453.4,308.5 455.7,308.4 458.0,308.4 460.3,308.4 462.5,308.4 464.8,308.4 467.1,308.4 469.4,308.4 471.6,308.4 473.9,308.4 476.2,308.4 478.5,308.4 480.7,308.4 483.0,308.4 485.3,308.4 487.5,308.4 489.8,308.4 492.1,308.4 494.4,308.4 496.6,308.4 498.9,308.4 501.2,308.4 503.5,308.4 505.7,308.4 508.0,308.4" fill="none" stroke="#d40a14" stroke-width="1.65" stroke-linejoin="round"/>
<polyline points="53.4,311.1 55.7,311.4 57.9,311.8 60.2,312.2 62.5,312.6 64.8,313.1 67.0,313.6 69.3,314.2 71.6,314.8 73.9,315.5 76.1,316.2 78.4,317.1 80.7,317.9 82.9,318.9 85.2,319.9 87.5,321.0 89.8,322.2 92.0,323.5 94.3,324.9 96.6,326.4 98.9,328.0 101.1,329.7 103.4,331.6 105.7,333.5 108.0,335.6 110.2,337.7 112.5,340.1 114.8,342.5 117.0,345.1 119.3,347.9 121.6,350.7 123.9,353.8 126.1,356.9 128.4,360.2 130.7,363.7 133.0,367.3 135.2,371.1 137.5,375.0 139.8,379.1 142.0,383.3 144.3,387.7 146.6,392.2 148.9,396.8 151.1,401.6 153.4,406.5 155.7,411.5 158.0,416.6 160.2,421.9 162.5,427.2 164.8,432.6 167.1,438.2 169.3,443.8 171.6,449.4 173.9,455.1 176.1,460.9 178.4,466.7 180.7,472.5 183.0,478.3 185.2,484.1 187.5,489.9 189.8,495.6 192.1,501.3 194.3,507.0 196.6,512.6 198.9,518.1 201.1,523.5 203.4,528.8 205.7,533.9 208.0,539.0 210.2,543.9 212.5,548.7 214.8,553.3 217.1,557.7 219.3,561.9 221.6,566.0 223.9,569.8 226.1,573.5 228.4,576.9 230.7,580.2 233.0,583.2 235.2,586.0 237.5,588.6 239.8,590.9 242.1,593.0 244.3,594.9 246.6,596.6 248.9,598.1 251.2,599.3 253.4,600.3 255.7,601.2 258.0,601.8 260.2,602.3 262.5,602.6 264.8,602.8 267.1,602.8 269.3,602.6 271.6,602.1 273.9,601.4 276.2,600.6 278.4,599.5 280.7,598.3 283.0,597.0 285.2,595.5 287.5,593.9 289.8,592.2 292.1,590.3 294.3,588.4 296.6,586.3 298.9,584.1 301.2,581.8 303.4,579.5 305.7,577.0 308.0,574.5 310.2,571.9 312.5,569.2 314.8,566.5 317.1,563.6 319.3,560.8 321.6,557.8 323.9,554.8 326.2,551.8 328.4,548.7 330.7,545.6 333.0,542.4 335.3,539.2 337.5,536.0 339.8,532.7 342.1,529.4 344.3,526.1 346.6,522.8 348.9,519.4 351.2,516.1 353.4,512.7 355.7,509.3 358.0,505.9 360.3,502.5 362.5,499.1 364.8,495.7 367.1,492.4 369.3,489.0 371.6,485.6 373.9,482.3 376.2,478.9 378.4,475.6 380.7,472.3 383.0,469.0 385.3,465.7 387.5,462.5 389.8,459.2 392.1,456.0 394.3,452.9 396.6,449.7 398.9,446.6 401.2,443.5 403.4,440.5 405.7,437.4 408.0,434.5 410.3,431.5 412.5,428.6 414.8,425.7 417.1,422.9 419.4,420.1 421.6,417.3 423.9,414.6 426.2,411.9 428.4,409.3 430.7,406.7 433.0,404.1 435.3,401.6 437.5,399.2 439.8,396.7 442.1,394.4 444.4,392.0 446.6,389.7 448.9,387.5 451.2,385.2 453.4,383.1 455.7,380.9 458.0,378.9 460.3,376.8 462.5,374.8 464.8,372.9 467.1,370.9 469.4,369.1 471.6,367.2 473.9,365.5 476.2,363.7 478.5,362.0 480.7,360.3 483.0,358.7 485.3,357.1 487.5,355.6 489.8,354.0 492.1,352.6 494.4,351.1 496.6,349.7 498.9,348.4 501.2,347.0 503.5,345.7 505.7,344.5 508.0,343.3" fill="none" stroke="#d40a14" stroke-width="1.65" stroke-dasharray="5 2.6" stroke-linejoin="round"/>
<polyline points="53.4,308.4 55.7,308.4 57.9,308.4 60.2,308.4 62.5,308.4 64.8,308.4 67.0,308.4 69.3,308.4 71.6,308.4 73.9,308.4 76.1,308.4 78.4,308.4 80.7,308.4 82.9,308.4 85.2,308.5 87.5,308.5 89.8,308.5 92.0,308.5 94.3,308.6 96.6,308.6 98.9,308.7 101.1,308.8 103.4,308.9 105.7,309.1 108.0,309.2 110.2,309.4 112.5,309.7 114.8,310.0 117.0,310.4 119.3,310.9 121.6,311.5 123.9,312.2 126.1,313.0 128.4,314.0 130.7,315.1 133.0,316.5 135.2,318.0 137.5,319.9 139.8,322.0 142.0,324.4 144.3,327.2 146.6,330.4 148.9,334.0 151.1,338.1 153.4,342.6 155.7,347.7 158.0,353.3 160.2,359.5 162.5,366.2 164.8,373.6 167.1,381.5 169.3,390.1 171.6,399.2 173.9,408.9 176.1,419.1 178.4,429.8 180.7,440.9 183.0,452.4 185.2,464.2 187.5,476.1 189.8,488.2 192.1,500.2 194.3,512.1 196.6,523.8 198.9,535.1 201.1,545.9 203.4,556.1 205.7,565.5 208.0,574.1 210.2,581.8 212.5,588.3 214.8,593.7 217.1,597.9 219.3,600.9 221.6,602.5 223.9,602.7 226.1,601.7 228.4,599.2 230.7,595.5 233.0,590.5 235.2,584.3 237.5,577.0 239.8,568.6 242.1,559.4 244.3,549.4 246.6,538.7 248.9,527.5 251.2,515.8 253.4,503.9 255.7,491.8 258.0,479.7 260.2,467.6 262.5,455.7 264.8,444.0 267.1,432.7 269.3,421.9 271.6,411.4 273.9,401.6 276.2,392.2 278.4,383.5 280.7,375.3 283.0,367.8 285.2,360.9 287.5,354.5 289.8,348.8 292.1,343.6 294.3,338.9 296.6,334.7 298.9,331.0 301.2,327.8 303.4,324.9 305.7,322.4 308.0,320.2 310.2,318.3 312.5,316.7 314.8,315.3 317.1,314.1 319.3,313.1 321.6,312.2 323.9,311.5 326.2,311.0 328.4,310.5 330.7,310.1 333.0,309.7 335.3,309.5 337.5,309.2 339.8,309.1 342.1,308.9 344.3,308.8 346.6,308.7 348.9,308.6 351.2,308.6 353.4,308.5 355.7,308.5 358.0,308.5 360.3,308.5 362.5,308.4 364.8,308.4 367.1,308.4 369.3,308.4 371.6,308.4 373.9,308.4 376.2,308.4 378.4,308.4 380.7,308.4 383.0,308.4 385.3,308.4 387.5,308.4 389.8,308.4 392.1,308.4 394.3,308.4 396.6,308.4 398.9,308.4 401.2,308.4 403.4,308.4 405.7,308.4 408.0,308.4 410.3,308.4 412.5,308.4 414.8,308.4 417.1,308.4 419.4,308.4 421.6,308.4 423.9,308.4 426.2,308.4 428.4,308.4 430.7,308.4 433.0,308.4 435.3,308.4 437.5,308.4 439.8,308.4 442.1,308.4 444.4,308.4 446.6,308.4 448.9,308.4 451.2,308.4 453.4,308.4 455.7,308.4 458.0,308.4 460.3,308.4 462.5,308.4 464.8,308.4 467.1,308.4 469.4,308.4 471.6,308.4 473.9,308.4 476.2,308.4 478.5,308.4 480.7,308.4 483.0,308.4 485.3,308.4 487.5,308.4 489.8,308.4 492.1,308.4 494.4,308.4 496.6,308.4 498.9,308.4 501.2,308.4 503.5,308.4 505.7,308.4 508.0,308.4" fill="none" stroke="#000" stroke-width="1.65" stroke-linejoin="round"/>
<polyline points="53.4,308.6 55.7,308.7 57.9,308.7 60.2,308.7 62.5,308.7 64.8,308.8 67.0,308.8 69.3,308.9 71.6,308.9 73.9,309.0 76.1,309.0 78.4,309.1 80.7,309.2 82.9,309.2 85.2,309.3 87.5,309.4 89.8,309.5 92.0,309.6 94.3,309.7 96.6,309.8 98.9,310.0 101.1,310.1 103.4,310.3 105.7,310.4 108.0,310.6 110.2,310.8 112.5,311.0 114.8,311.3 117.0,311.5 119.3,311.8 121.6,312.1 123.9,312.4 126.1,312.7 128.4,313.1 130.7,313.5 133.0,313.9 135.2,314.4 137.5,314.8 139.8,315.4 142.0,315.9 144.3,316.5 146.6,317.2 148.9,317.8 151.1,318.6 153.4,319.3 155.7,320.1 158.0,321.0 160.2,322.0 162.5,322.9 164.8,324.0 167.1,325.1 169.3,326.3 171.6,327.5 173.9,328.9 176.1,330.3 178.4,331.8 180.7,333.3 183.0,335.0 185.2,336.7 187.5,338.6 189.8,340.5 192.1,342.5 194.3,344.6 196.6,346.9 198.9,349.2 201.1,351.7 203.4,354.2 205.7,356.9 208.0,359.7 210.2,362.6 212.5,365.6 214.8,368.8 217.1,372.1 219.3,375.5 221.6,379.1 223.9,382.7 226.1,386.5 228.4,390.5 230.7,394.5 233.0,398.7 235.2,403.1 237.5,407.5 239.8,412.1 242.1,416.8 244.3,421.6 246.6,426.5 248.9,431.6 251.2,436.7 253.4,442.0 255.7,447.4 258.0,452.8 260.2,458.3 262.5,463.9 264.8,469.6 267.1,475.4 269.3,481.1 271.6,487.0 273.9,492.8 276.2,498.7 278.4,504.6 280.7,510.4 283.0,516.3 285.2,522.1 287.5,527.8 289.8,533.5 292.1,539.1 294.3,544.6 296.6,550.0 298.9,555.3 301.2,560.4 303.4,565.3 305.7,570.0 308.0,574.6 310.2,578.8 312.5,582.9 314.8,586.6 317.1,590.1 319.3,593.2 321.6,595.9 323.9,598.3 326.2,600.2 328.4,601.7 330.7,602.6 333.0,602.8 335.3,602.4 337.5,601.6 339.8,600.4 342.1,598.6 344.3,596.3 346.6,593.5 348.9,590.1 351.2,586.2 353.4,581.9 355.7,577.0 358.0,571.7 360.3,566.0 362.5,559.8 364.8,553.2 367.1,546.3 369.3,539.1 371.6,531.6 373.9,523.8 376.2,515.9 378.4,507.7 380.7,499.5 383.0,491.1 385.3,482.8 387.5,474.4 389.8,466.0 392.1,457.7 394.3,449.5 396.6,441.4 398.9,433.5 401.2,425.8 403.4,418.3 405.7,411.0 408.0,403.9 410.3,397.1 412.5,390.6 414.8,384.4 417.1,378.5 419.4,372.8 421.6,367.5 423.9,362.5 426.2,357.8 428.4,353.3 430.7,349.2 433.0,345.3 435.3,341.8 437.5,338.4 439.8,335.4 442.1,332.6 444.4,330.0 446.6,327.7 448.9,325.5 451.2,323.6 453.4,321.8 455.7,320.2 458.0,318.8 460.3,317.5 462.5,316.4 464.8,315.4 467.1,314.5 469.4,313.7 471.6,313.0 473.9,312.3 476.2,311.8 478.5,311.3 480.7,310.9 483.0,310.5 485.3,310.2 487.5,309.9 489.8,309.7 492.1,309.5 494.4,309.3 496.6,309.2 498.9,309.0 501.2,308.9 503.5,308.9 505.7,308.8 508.0,308.7" fill="none" stroke="#000" stroke-width="1.65" stroke-dasharray="5 2.6" stroke-linejoin="round"/>
<g fill="#000">
<circle cx="57.5" cy="308" r="2.9"/>
<circle cx="105.5" cy="307.5" r="2.9"/>
<circle cx="108" cy="310" r="2.9"/>
<circle cx="130.5" cy="312" r="2.9"/>
<circle cx="155.5" cy="314.25" r="2.9"/>
<circle cx="157.5" cy="339.25" r="2.9"/>
<circle cx="180" cy="324.25" r="2.9"/>
<circle cx="205" cy="347" r="2.9"/>
<circle cx="230" cy="409" r="2.9"/>
<circle cx="182" cy="465.75" r="2.9"/>
<circle cx="255.75" cy="471.25" r="2.9"/>
<circle cx="257.5" cy="482.5" r="2.9"/>
<circle cx="207.5" cy="569.25" r="2.9"/>
<circle cx="232.5" cy="563" r="2.9"/>
<circle cx="282.5" cy="365.5" r="2.9"/>
<circle cx="307" cy="316.75" r="2.9"/>
<circle cx="332" cy="308.75" r="2.9"/>
<circle cx="357.5" cy="307.5" r="2.9"/>
<circle cx="280.5" cy="524.25" r="2.9"/>
<circle cx="305" cy="553.75" r="2.9"/>
<circle cx="355" cy="558" r="2.9"/>
<circle cx="379" cy="507.5" r="2.9"/>
<circle cx="404.8" cy="425.6" r="2.9"/>
<circle cx="430.1" cy="355.6" r="2.9"/>
<circle cx="455.4" cy="322.8" r="2.9"/>
<circle cx="507" cy="309" r="2.9"/>
</g>
<g fill="#d40a14">
<path d="M70.8,318.1L76.8,318.1L73.8,312.3Z"/>
<path d="M87.0,321.4L93.0,321.4L90.0,315.6Z"/>
<path d="M95.8,325.9L101.8,325.9L98.8,320.1Z"/>
<path d="M120.2,343.1L126.2,343.1L123.2,337.3Z"/>
<path d="M113.2,351.4L119.2,351.4L116.2,345.6Z"/>
<path d="M136.5,408.4L142.5,408.4L139.5,402.6Z"/>
<path d="M145.2,414.4L151.2,414.4L148.2,408.6Z"/>
<path d="M170.0,475.9L176.0,475.9L173.0,470.1Z"/>
<path d="M162.5,486.9L168.5,486.9L165.5,481.1Z"/>
<path d="M186.2,551.9L192.2,551.9L189.2,546.0Z"/>
<path d="M196.2,527.6L202.2,527.6L199.2,521.8Z"/>
<path d="M211.2,583.4L217.2,583.4L214.2,577.5Z"/>
<path d="M220.8,561.9L226.8,561.9L223.8,556.0Z"/>
<path d="M237.0,575.9L243.0,575.9L240.0,570.0Z"/>
<path d="M333.8,337.6L339.8,337.6L336.8,331.8Z"/>
<path d="M310.2,389.6L316.2,389.6L313.2,383.8Z"/>
<path d="M284.5,460.1L290.5,460.1L287.5,454.3Z"/>
<path d="M370.2,485.1L376.2,485.1L373.2,479.3Z"/>
<path d="M260.8,532.6L266.8,532.6L263.8,526.8Z"/>
<path d="M295.8,574.6L301.8,574.6L298.8,568.8Z"/>
<path d="M320.2,554.4L326.2,554.4L323.2,548.5Z"/>
<path d="M345.8,520.6L351.8,520.6L348.8,514.8Z"/>
<path d="M434.1,409.1L440.1,409.1L437.1,403.3Z"/>
<path d="M393.5,450.6L399.5,450.6L396.5,444.8Z"/>
<path d="M459.0,384.6L465.0,384.6L462.0,378.8Z"/>
<path d="M484.0,362.6L490.0,362.6L487.0,356.8Z"/>
</g>
<rect x="53.4" y="308.4" width="454.6" height="294.4" fill="none" stroke="#404040" stroke-width="1.4"/>
<text x="39.2" y="313.8" font-size="14.5" fill="#000" stroke="#000" textLength="7.9" lengthAdjust="spacingAndGlyphs">0</text>
<text x="20.6" y="372.0" font-size="14.5" fill="#000" stroke="#000" textLength="26.3" lengthAdjust="spacingAndGlyphs">-0.2</text>
<text x="20.6" y="431.4" font-size="14.5" fill="#000" stroke="#000" textLength="26.3" lengthAdjust="spacingAndGlyphs">-0.4</text>
<text x="20.6" y="490.8" font-size="14.5" fill="#000" stroke="#000" textLength="26.3" lengthAdjust="spacingAndGlyphs">-0.6</text>
<text x="20.6" y="550.2" font-size="14.5" fill="#000" stroke="#000" textLength="26.3" lengthAdjust="spacingAndGlyphs">-0.8</text>
<text x="20.6" y="608.2" font-size="14.5" fill="#000" stroke="#000" textLength="26.3" lengthAdjust="spacingAndGlyphs">-1.0</text>
<text x="45.3" y="619.1" font-size="14.5" fill="#000" stroke="#000" textLength="16.4" lengthAdjust="spacingAndGlyphs">25</text>
<text x="102.6" y="619.1" font-size="14.5" fill="#000" stroke="#000" textLength="16.4" lengthAdjust="spacingAndGlyphs">50</text>
<text x="159.8" y="619.1" font-size="14.5" fill="#000" stroke="#000" textLength="16.4" lengthAdjust="spacingAndGlyphs">75</text>
<text x="211.7" y="619.1" font-size="14.5" fill="#000" stroke="#000" textLength="24.6" lengthAdjust="spacingAndGlyphs">100</text>
<text x="267.7" y="619.1" font-size="14.5" fill="#000" stroke="#000" textLength="24.6" lengthAdjust="spacingAndGlyphs">125</text>
<text x="324.7" y="619.1" font-size="14.5" fill="#000" stroke="#000" textLength="24.6" lengthAdjust="spacingAndGlyphs">150</text>
<text x="381.9" y="619.1" font-size="14.5" fill="#000" stroke="#000" textLength="24.6" lengthAdjust="spacingAndGlyphs">175</text>
<text x="438.9" y="619.1" font-size="14.5" fill="#000" stroke="#000" textLength="24.6" lengthAdjust="spacingAndGlyphs">200</text>
<text x="493.7" y="619.1" font-size="14.5" fill="#000" stroke="#000" textLength="24.6" lengthAdjust="spacingAndGlyphs">225</text>
<text x="149.4" y="636.2" font-size="14.5" fill="#000" stroke="#000" textLength="201.4" lengthAdjust="spacingAndGlyphs">x-position or y-position / mm</text>
<text transform="translate(14.8,486.4) rotate(-90)" font-size="14.5" stroke="#000" textLength="64.2" lengthAdjust="spacingAndGlyphs">z / arb. u.</text>
<text x="57.4" y="396.2" font-size="15" fill="#000" stroke="#000" textLength="51.1" lengthAdjust="spacingAndGlyphs">bottom</text>
<text x="74.6" y="416.5" font-size="15" fill="#000" stroke="#000" textLength="16.9" lengthAdjust="spacingAndGlyphs">(y)</text>
<text x="473.2" y="395.8" font-size="15" fill="#000" stroke="#000" textLength="22.8" lengthAdjust="spacingAndGlyphs">top</text>
<text x="476.3" y="416" font-size="15" fill="#000" stroke="#000" textLength="16.8" lengthAdjust="spacingAndGlyphs">(y)</text>
<text x="82.2" y="532.9" font-size="15" fill="#000" stroke="#000" textLength="73.0" lengthAdjust="spacingAndGlyphs">x-direction</text>
<text x="88.1" y="553.2" font-size="15" fill="#000" stroke="#000" textLength="67.7" lengthAdjust="spacingAndGlyphs">solid lines</text>
<text x="411" y="532.8" font-size="15" fill="#000" stroke="#000" textLength="73.6" lengthAdjust="spacingAndGlyphs">y-direction</text>
<text x="411.6" y="553.4" font-size="15" fill="#000" stroke="#000" textLength="85.7" lengthAdjust="spacingAndGlyphs">dashed lines</text>
<text x="404.4" y="352.3" font-size="17.5" fill="#000" stroke="#000" textLength="14.0" lengthAdjust="spacingAndGlyphs">Si</text>
<text x="418.4" y="453.3" font-size="18.5" fill="#d40a14" stroke="#d40a14" textLength="36.2" lengthAdjust="spacingAndGlyphs">SiO<tspan font-size="11.5" dy="1">2</tspan></text>
</svg>
</body></html>
